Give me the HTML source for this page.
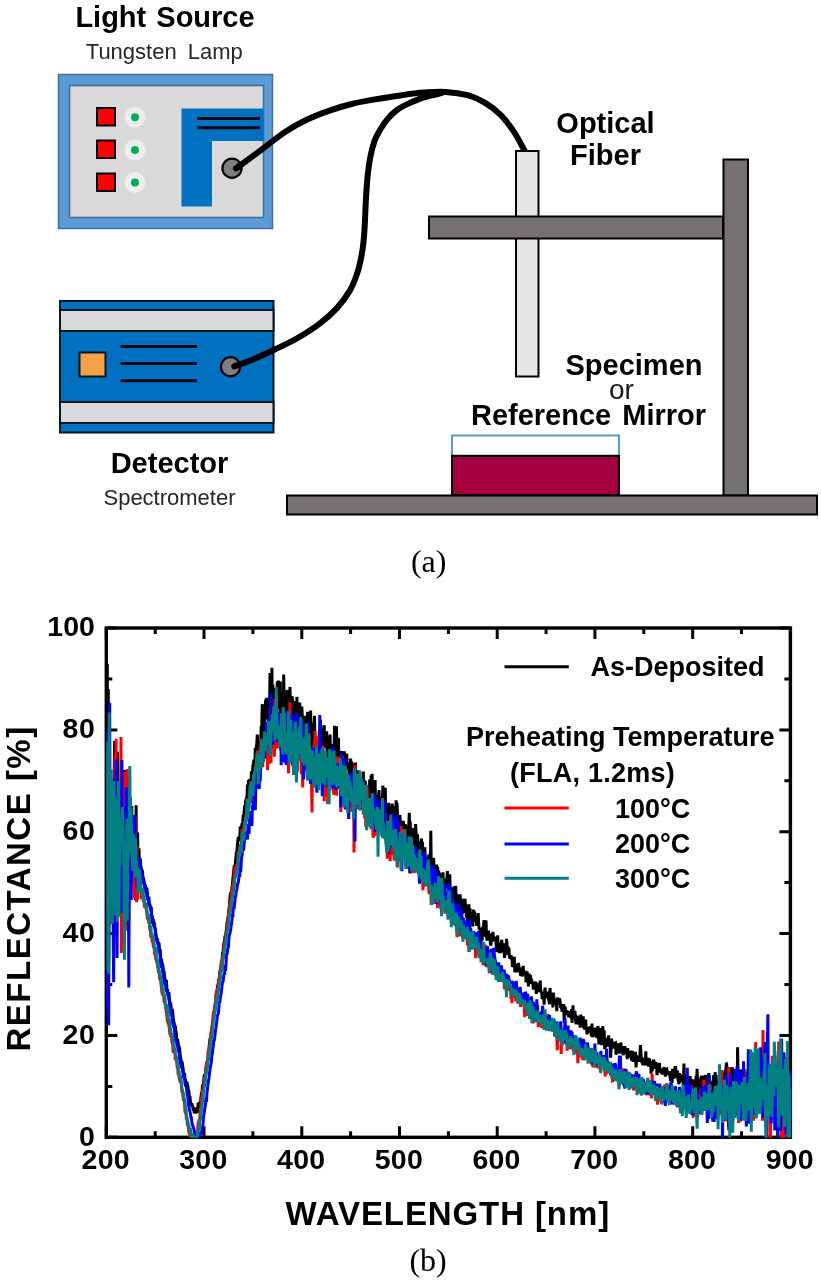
<!DOCTYPE html>
<html lang="en">
<head>
<meta charset="utf-8">
<title>Reflectance measurement setup and spectra</title>
<style>
html,body{margin:0;padding:0;background:#fff;}
body{width:821px;height:1280px;overflow:hidden;}
svg{display:block;}
text{font-family:"Liberation Sans",Arial,Helvetica,sans-serif;fill:#000;}
.b{font-weight:bold;}
.h{font-size:29px;font-weight:bold;}
.s{font-size:22px;fill:#262626;}
.tk{font-size:28.5px;font-weight:bold;letter-spacing:0.2px;}
.lg{font-size:27px;font-weight:bold;}
.axl{font-size:33px;font-weight:bold;}
.cap{font-family:"Liberation Serif","Times New Roman",serif;font-size:32px;}
</style>
</head>
<body>
<svg width="821" height="1280" viewBox="0 0 821 1280">
<defs>
<clipPath id="plotclip"><rect x="106.3" y="627" width="685" height="510.8"/></clipPath>
</defs>
<rect x="0" y="0" width="821" height="1280" fill="#ffffff"/>

<!-- ================= (a) schematic ================= -->
<!-- titles -->
<text x="165" y="26.8" text-anchor="middle" class="h" style="font-size:29px;word-spacing:2px">Light Source</text>
<text x="164.3" y="58.6" text-anchor="middle" class="s" style="word-spacing:5px">Tungsten Lamp</text>

<!-- light source box -->
<rect x="58.5" y="74.5" width="214" height="154" fill="#5b9bd5" stroke="#41719c" stroke-width="1.5"/>
<rect x="69.5" y="85.5" width="194" height="132" fill="#d9d9d9" stroke="#41719c" stroke-width="1.6"/>
<g fill="#ff0000" stroke="#000" stroke-width="2">
<rect x="97" y="108" width="18" height="17.5"/>
<rect x="97" y="140.5" width="18" height="17.5"/>
<rect x="97" y="173.5" width="18" height="17.5"/>
</g>
<g fill="#ededed">
<circle cx="135" cy="117.3" r="10.5"/><circle cx="135" cy="150" r="10.5"/><circle cx="135" cy="182.5" r="10.5"/>
</g>
<g fill="#00b050">
<circle cx="135" cy="117.3" r="4"/><circle cx="135" cy="150" r="4"/><circle cx="135" cy="182.5" r="4"/>
</g>
<path d="M181.5 108.5H263.5V141H212V206.5H181.5Z" fill="#0070c0"/>
<path d="M197.5 118.5H260M197.5 127.8H260" stroke="#0a0a14" stroke-width="3" fill="none"/>

<!-- detector box -->
<rect x="60" y="301" width="213.5" height="131.5" fill="#0070c0" stroke="#0b1522" stroke-width="2"/>
<rect x="60" y="310" width="213.5" height="21" fill="#d9d9d9" stroke="#0b1522" stroke-width="2"/>
<rect x="60" y="402" width="213.5" height="21" fill="#d9d9d9" stroke="#0b1522" stroke-width="2"/>
<rect x="79.5" y="352.5" width="26" height="24" fill="#f4a245" stroke="#0b1522" stroke-width="2"/>
<path d="M120.5 346.5H197M120.5 363.5H197M120.5 380.7H197" stroke="#0a0a14" stroke-width="3" fill="none"/>

<!-- cables -->
<g fill="none" stroke="#000" stroke-width="6" stroke-linecap="round" stroke-linejoin="round">
<path d="M236.0 168.5 C240.7 165.1 255.6 154.0 263.9 147.8 C272.2 141.6 278.5 136.2 285.8 131.4 C293.1 126.7 300.4 122.8 307.7 119.3 C315.0 115.8 322.3 113.1 329.6 110.6 C336.9 108.0 344.3 105.8 351.6 104.0 C358.9 102.2 365.1 101.1 373.5 99.6 C381.9 98.1 393.5 96.4 401.9 95.2 C410.3 94.0 416.5 93.1 423.8 92.6 C431.1 92.0 438.5 91.5 445.8 91.9 C453.1 92.3 461.1 93.4 467.7 95.2 C474.3 97.0 479.7 99.6 485.2 102.9 C490.7 106.2 495.9 110.2 500.6 114.9 C505.4 119.7 509.6 125.3 513.7 131.4 C517.8 137.5 523.1 148.2 525.0 151.5"/>
<path d="M234.3 366.4 C237.4 365.2 246.2 362.2 252.9 359.4 C259.6 356.6 267.5 353.0 274.8 349.5 C282.1 346.0 289.4 342.7 296.7 338.5 C304.0 334.3 312.1 329.2 318.7 324.3 C325.3 319.4 331.1 314.4 336.2 308.9 C341.3 303.4 345.9 297.2 349.4 291.4 C352.9 285.6 355.0 279.8 357.0 273.9 C359.0 268.0 360.3 261.8 361.4 256.3 C362.5 250.8 363.1 246.1 363.6 241.0 C364.2 235.9 364.3 232.6 364.7 226.0 C365.1 219.4 365.4 209.3 365.8 201.6 C366.2 193.9 366.6 186.9 367.3 179.6 C368.0 172.3 369.0 164.1 370.2 157.7 C371.4 151.3 372.9 145.6 374.5 141.0 C376.1 136.4 377.8 133.8 380.0 130.0 C382.2 126.2 385.2 121.8 388.0 118.5 C390.8 115.2 393.9 112.3 397.0 110.0 C400.1 107.7 401.8 106.7 406.3 104.6 C410.8 102.5 418.0 99.3 423.8 97.4 C429.6 95.5 438.5 93.9 441.4 93.2"/>
</g>
<!-- connectors -->
<circle cx="232" cy="168.2" r="9.6" fill="#7f7f7f" stroke="#000" stroke-width="2.2"/>
<circle cx="230.5" cy="366.8" r="9.6" fill="#7f7f7f" stroke="#000" stroke-width="2.2"/>
<path d="M236 168.5L242 164" stroke="#000" stroke-width="6" stroke-linecap="round"/>
<path d="M234.3 366.4L241 363.8" stroke="#000" stroke-width="6" stroke-linecap="round"/>

<!-- fiber probe -->
<rect x="516" y="151" width="22.5" height="225.5" fill="#e7e6e6" stroke="#000" stroke-width="2"/>
<!-- stand -->
<rect x="429" y="216.5" width="294" height="22" fill="#767171" stroke="#000" stroke-width="2"/>
<rect x="723.5" y="159.5" width="24.5" height="336" fill="#767171" stroke="#000" stroke-width="2"/>
<rect x="287" y="495.5" width="530" height="19" fill="#767171" stroke="#000" stroke-width="2"/>
<!-- specimen -->
<rect x="452" y="435.5" width="167" height="20" fill="#ffffff" stroke="#5b9bd5" stroke-width="2"/>
<rect x="452" y="456" width="167" height="39" fill="#a5003e" stroke="#000" stroke-width="2"/>

<text x="605.5" y="132.5" text-anchor="middle" class="h">Optical</text>
<text x="605.5" y="165" text-anchor="middle" class="h">Fiber</text>
<text x="634" y="374.8" text-anchor="middle" class="h">Specimen</text>
<text x="621.5" y="399.3" text-anchor="middle" style="font-size:28px;fill:#1a1a1a">or</text>
<text x="588.5" y="425" text-anchor="middle" class="h" style="word-spacing:3px">Reference Mirror</text>

<text x="169.5" y="472.5" text-anchor="middle" class="h">Detector</text>
<text x="169.5" y="505" text-anchor="middle" class="s">Spectrometer</text>

<text x="428.7" y="572" text-anchor="middle" class="cap">(a)</text>

<!-- ================= (b) chart ================= -->
<rect x="106.3" y="628.0" width="684.1" height="509.3" fill="none" stroke="#000" stroke-width="3.4"/>
<path d="M106.3 1137.3v-11.0M106.3 628.0v11.0M155.2 1137.3v-6.0M155.2 628.0v6.0M204.0 1137.3v-11.0M204.0 628.0v11.0M252.9 1137.3v-6.0M252.9 628.0v6.0M301.8 1137.3v-11.0M301.8 628.0v11.0M350.6 1137.3v-6.0M350.6 628.0v6.0M399.5 1137.3v-11.0M399.5 628.0v11.0M448.4 1137.3v-6.0M448.4 628.0v6.0M497.2 1137.3v-11.0M497.2 628.0v11.0M546.1 1137.3v-6.0M546.1 628.0v6.0M594.9 1137.3v-11.0M594.9 628.0v11.0M643.8 1137.3v-6.0M643.8 628.0v6.0M692.7 1137.3v-11.0M692.7 628.0v11.0M741.5 1137.3v-6.0M741.5 628.0v6.0M790.4 1137.3v-11.0M790.4 628.0v11.0M106.3 1137.3h11.0M790.4 1137.3h-11.0M106.3 1086.4h6.0M790.4 1086.4h-6.0M106.3 1035.4h11.0M790.4 1035.4h-11.0M106.3 984.5h6.0M790.4 984.5h-6.0M106.3 933.6h11.0M790.4 933.6h-11.0M106.3 882.6h6.0M790.4 882.6h-6.0M106.3 831.7h11.0M790.4 831.7h-11.0M106.3 780.8h6.0M790.4 780.8h-6.0M106.3 729.9h11.0M790.4 729.9h-11.0M106.3 678.9h6.0M790.4 678.9h-6.0M106.3 628.0h11.0M790.4 628.0h-11.0" stroke="#000" stroke-width="3" fill="none"/>
<g fill="none" stroke-width="3" stroke-linejoin="miter" stroke-miterlimit="2" stroke-linecap="butt" clip-path="url(#plotclip)">
<polyline stroke="#000000" points="106.3,643.3 106.8,943.8 107.3,663.7 107.8,908.1 108.3,689.1 108.7,959.0 109.2,709.5 109.7,882.6 110.2,826.9 110.7,894.5 111.2,882.6 111.7,856.6 112.2,785.2 112.7,794.0 113.1,905.2 113.6,893.4 114.1,786.8 114.6,741.0 115.1,831.2 115.6,866.8 116.1,772.2 116.6,846.9 117.1,793.3 117.5,751.7 118.0,799.6 118.5,870.9 119.0,795.2 119.5,863.5 120.0,840.4 120.5,859.5 121.0,841.5 121.4,854.8 121.9,840.4 122.4,849.4 122.9,827.6 123.4,828.8 123.9,818.4 124.4,770.1 124.9,898.3 125.4,777.1 125.8,841.5 126.3,882.1 126.8,839.8 127.3,830.1 127.8,794.0 128.3,874.0 128.8,827.7 129.3,900.3 129.8,894.3 130.2,876.9 130.7,818.7 131.2,816.8 131.7,806.1 132.2,825.4 132.7,831.5 133.2,840.6 133.7,816.1 134.2,865.8 134.6,851.2 135.1,842.3 135.6,900.2 136.1,805.3 136.6,865.8 137.1,856.6 137.6,832.6 138.1,867.9 138.6,866.1 139.0,848.4 139.5,873.7 140.0,869.8 140.5,864.7 141.0,867.3 141.5,868.8 142.0,872.1 142.5,870.4 142.9,877.8 143.4,878.0 143.9,879.7 144.4,884.9 144.9,889.6 145.4,885.1 145.9,893.1 146.4,888.4 146.9,887.9 147.3,896.8 147.8,897.8 148.3,899.1 148.8,896.5 149.3,904.7 149.8,905.3 150.3,908.5 150.8,909.0 151.3,908.8 151.7,916.6 152.2,923.6 152.7,920.3 153.2,919.2 153.7,926.7 154.2,923.2 154.7,927.2 155.2,928.5 155.7,932.8 156.1,939.3 156.6,939.2 157.1,937.9 157.6,942.2 158.1,944.7 158.6,942.6 159.1,943.9 159.6,951.7 160.1,949.2 160.5,955.1 161.0,963.7 161.5,958.9 162.0,964.0 162.5,964.3 163.0,966.8 163.5,977.7 164.0,971.1 164.4,974.7 164.9,981.2 165.4,979.3 165.9,981.7 166.4,980.0 166.9,991.3 167.4,989.2 167.9,992.6 168.4,994.2 168.8,992.2 169.3,997.7 169.8,1002.1 170.3,1002.9 170.8,1003.8 171.3,1010.4 171.8,1011.0 172.3,1008.9 172.8,1013.0 173.2,1017.7 173.7,1021.3 174.2,1023.1 174.7,1029.0 175.2,1025.5 175.7,1029.5 176.2,1032.6 176.7,1038.6 177.2,1039.7 177.6,1039.3 178.1,1042.4 178.6,1046.8 179.1,1046.9 179.6,1048.4 180.1,1054.9 180.6,1057.1 181.1,1060.5 181.6,1063.7 182.0,1061.5 182.5,1064.8 183.0,1067.7 183.5,1074.0 184.0,1076.2 184.5,1072.8 185.0,1079.2 185.5,1079.9 185.9,1083.9 186.4,1082.6 186.9,1081.8 187.4,1084.4 187.9,1086.3 188.4,1092.0 188.9,1091.9 189.4,1097.1 189.9,1095.9 190.3,1101.1 190.8,1103.4 191.3,1105.8 191.8,1103.4 192.3,1105.4 192.8,1106.6 193.3,1110.8 193.8,1108.6 194.3,1113.4 194.7,1107.3 195.2,1112.2 195.7,1112.3 196.2,1110.2 196.7,1112.8 197.2,1111.4 197.7,1111.4 198.2,1102.5 198.7,1107.9 199.1,1105.9 199.6,1102.0 200.1,1103.7 200.6,1101.5 201.1,1096.0 201.6,1092.8 202.1,1091.4 202.6,1084.4 203.1,1086.3 203.5,1084.2 204.0,1077.4 204.5,1074.1 205.0,1079.1 205.5,1073.0 206.0,1066.4 206.5,1069.4 207.0,1065.2 207.4,1063.1 207.9,1060.2 208.4,1056.5 208.9,1050.3 209.4,1044.0 209.9,1039.7 210.4,1039.8 210.9,1041.0 211.4,1032.7 211.8,1029.7 212.3,1024.4 212.8,1021.9 213.3,1022.4 213.8,1013.3 214.3,1015.8 214.8,1008.8 215.3,1002.7 215.8,998.9 216.2,992.8 216.7,998.8 217.2,989.4 217.7,985.4 218.2,984.7 218.7,979.1 219.2,980.2 219.7,972.7 220.2,969.8 220.6,970.4 221.1,966.4 221.6,962.1 222.1,960.0 222.6,952.7 223.1,951.6 223.6,945.6 224.1,942.3 224.6,941.4 225.0,935.6 225.5,936.6 226.0,932.6 226.5,929.0 227.0,922.5 227.5,921.9 228.0,915.9 228.5,916.3 228.9,910.1 229.4,905.7 229.9,898.0 230.4,894.0 230.9,894.1 231.4,891.4 231.9,888.3 232.4,884.6 232.9,878.1 233.3,875.2 233.8,870.2 234.3,865.3 234.8,867.6 235.3,863.4 235.8,859.3 236.3,852.9 236.8,852.7 237.3,846.9 237.7,841.7 238.2,838.1 238.7,837.9 239.2,839.5 239.7,839.7 240.2,827.7 240.7,827.5 241.2,830.1 241.7,826.0 242.1,823.3 242.6,825.7 243.1,815.4 243.6,817.2 244.1,812.6 244.6,805.6 245.1,806.7 245.6,801.3 246.1,799.2 246.5,798.5 247.0,795.8 247.5,784.6 248.0,791.8 248.5,780.1 249.0,800.1 249.5,779.2 250.0,779.8 250.4,782.7 250.9,789.7 251.4,771.4 251.9,779.0 252.4,775.6 252.9,765.6 253.4,763.8 253.9,759.8 254.4,761.7 254.8,769.8 255.3,747.7 255.8,760.7 256.3,748.5 256.8,742.9 257.3,734.6 257.8,745.7 258.3,744.4 258.8,760.0 259.2,756.2 259.7,742.6 260.2,743.2 260.7,742.8 261.2,726.1 261.7,729.9 262.2,705.3 262.7,704.4 263.2,744.0 263.6,717.4 264.1,729.8 264.6,709.9 265.1,711.4 265.6,699.5 266.1,719.4 266.6,697.9 267.1,710.2 267.6,715.5 268.0,719.1 268.5,713.1 269.0,706.5 269.5,712.3 270.0,673.1 270.5,697.3 271.0,674.4 271.5,696.6 271.9,667.8 272.4,710.9 272.9,684.5 273.4,714.4 273.9,688.1 274.4,694.8 274.9,721.4 275.4,710.2 275.9,693.6 276.3,700.9 276.8,719.7 277.3,681.6 277.8,699.0 278.3,680.6 278.8,696.0 279.3,697.8 279.8,709.2 280.3,681.4 280.7,723.9 281.2,710.4 281.7,721.7 282.2,732.6 282.7,692.5 283.2,727.6 283.7,674.6 284.2,708.9 284.7,706.8 285.1,707.5 285.6,700.7 286.1,722.9 286.6,713.8 287.1,689.9 287.6,748.6 288.1,742.9 288.6,703.0 289.1,706.4 289.5,701.1 290.0,686.9 290.5,723.3 291.0,710.6 291.5,706.3 292.0,696.2 292.5,699.7 293.0,727.3 293.5,735.5 293.9,719.9 294.4,739.7 294.9,700.9 295.4,723.0 295.9,722.9 296.4,731.0 296.9,696.9 297.4,715.1 297.8,725.6 298.3,711.3 298.8,721.6 299.3,712.3 299.8,702.5 300.3,725.2 300.8,714.6 301.3,715.5 301.8,706.6 302.2,714.6 302.7,722.9 303.2,732.7 303.7,719.9 304.2,739.0 304.7,715.7 305.2,724.3 305.7,717.9 306.2,733.0 306.6,737.3 307.1,739.2 307.6,711.7 308.1,730.3 308.6,730.8 309.1,752.5 309.6,729.2 310.1,758.7 310.6,710.6 311.0,732.8 311.5,729.6 312.0,749.6 312.5,745.6 313.0,723.1 313.5,734.5 314.0,726.4 314.5,715.7 315.0,745.7 315.4,759.0 315.9,747.2 316.4,750.9 316.9,747.1 317.4,763.0 317.9,763.1 318.4,763.9 318.9,744.8 319.3,730.6 319.8,742.1 320.3,719.7 320.8,762.6 321.3,757.4 321.8,736.5 322.3,743.7 322.8,753.5 323.3,731.2 323.7,727.5 324.2,725.2 324.7,747.7 325.2,743.1 325.7,740.6 326.2,743.2 326.7,731.4 327.2,758.2 327.7,740.7 328.1,773.7 328.6,736.7 329.1,740.6 329.6,747.6 330.1,734.6 330.6,769.2 331.1,753.1 331.6,768.8 332.1,746.1 332.5,744.1 333.0,768.3 333.5,762.3 334.0,759.7 334.5,725.7 335.0,754.5 335.5,752.7 336.0,750.3 336.5,726.3 336.9,758.9 337.4,772.8 337.9,765.4 338.4,737.8 338.9,755.2 339.4,763.4 339.9,775.8 340.4,760.7 340.8,760.3 341.3,759.0 341.8,751.1 342.3,769.5 342.8,765.0 343.3,753.5 343.8,761.5 344.3,751.4 344.8,768.1 345.2,771.0 345.7,764.5 346.2,764.6 346.7,753.7 347.2,763.5 347.7,769.2 348.2,764.2 348.7,762.4 349.2,783.7 349.6,772.9 350.1,775.7 350.6,758.5 351.1,778.6 351.6,761.3 352.1,788.7 352.6,775.4 353.1,763.1 353.6,778.9 354.0,763.3 354.5,800.1 355.0,777.3 355.5,762.5 356.0,780.2 356.5,796.4 357.0,772.4 357.5,805.2 358.0,770.4 358.4,778.3 358.9,771.1 359.4,785.5 359.9,795.6 360.4,789.5 360.9,789.5 361.4,778.3 361.9,788.9 362.3,781.5 362.8,781.3 363.3,771.6 363.8,809.4 364.3,792.6 364.8,781.3 365.3,781.8 365.8,795.9 366.3,793.3 366.7,792.0 367.2,790.1 367.7,798.1 368.2,799.5 368.7,805.1 369.2,797.7 369.7,779.5 370.2,804.8 370.7,785.2 371.1,775.4 371.6,794.2 372.1,773.9 372.6,798.7 373.1,780.2 373.6,798.6 374.1,811.2 374.6,795.4 375.1,779.9 375.5,806.0 376.0,795.4 376.5,811.1 377.0,810.4 377.5,797.1 378.0,804.1 378.5,796.9 379.0,790.1 379.5,815.6 379.9,811.1 380.4,804.1 380.9,797.4 381.4,808.7 381.9,810.8 382.4,801.9 382.9,785.6 383.4,813.1 383.8,810.7 384.3,807.7 384.8,801.0 385.3,787.8 385.8,821.9 386.3,826.4 386.8,808.8 387.3,805.5 387.8,833.3 388.2,817.8 388.7,802.8 389.2,817.8 389.7,806.1 390.2,811.9 390.7,807.7 391.2,810.4 391.7,812.5 392.2,803.5 392.6,821.5 393.1,815.4 393.6,806.2 394.1,822.9 394.6,834.0 395.1,825.7 395.6,828.0 396.1,800.3 396.6,815.6 397.0,802.8 397.5,814.1 398.0,835.3 398.5,824.7 399.0,820.1 399.5,823.5 400.0,815.1 400.5,832.2 401.0,823.1 401.4,820.8 401.9,827.8 402.4,828.3 402.9,821.6 403.4,822.0 403.9,828.6 404.4,828.3 404.9,833.8 405.3,824.2 405.8,830.9 406.3,844.5 406.8,833.6 407.3,825.8 407.8,829.3 408.3,836.7 408.8,824.9 409.3,812.7 409.7,828.7 410.2,821.3 410.7,838.5 411.2,830.9 411.7,839.3 412.2,829.0 412.7,828.2 413.2,834.8 413.7,833.2 414.1,847.6 414.6,835.7 415.1,856.5 415.6,824.0 416.1,833.3 416.6,857.2 417.1,864.1 417.6,834.2 418.1,853.5 418.5,842.2 419.0,858.7 419.5,847.7 420.0,840.9 420.5,844.6 421.0,853.2 421.5,838.5 422.0,858.1 422.5,841.7 422.9,853.3 423.4,849.4 423.9,867.8 424.4,856.1 424.9,847.2 425.4,866.8 425.9,860.2 426.4,860.8 426.8,866.3 427.3,857.9 427.8,871.8 428.3,870.7 428.8,854.2 429.3,869.0 429.8,857.2 430.3,872.0 430.8,830.8 431.2,861.7 431.7,880.8 432.2,872.0 432.7,870.8 433.2,858.4 433.7,859.2 434.2,873.5 434.7,866.9 435.2,873.9 435.6,867.5 436.1,871.3 436.6,864.6 437.1,876.4 437.6,866.9 438.1,875.5 438.6,870.6 439.1,878.0 439.6,872.6 440.0,876.4 440.5,879.7 441.0,882.6 441.5,882.1 442.0,877.0 442.5,897.9 443.0,872.4 443.5,899.0 444.0,884.4 444.4,886.1 444.9,878.7 445.4,883.1 445.9,885.8 446.4,885.4 446.9,879.7 447.4,871.0 447.9,885.1 448.4,903.6 448.8,892.1 449.3,886.6 449.8,874.3 450.3,896.4 450.8,894.2 451.3,888.1 451.8,890.4 452.3,902.8 452.7,887.2 453.2,903.9 453.7,897.0 454.2,886.4 454.7,905.7 455.2,902.4 455.7,885.8 456.2,900.0 456.7,906.1 457.1,903.4 457.6,894.2 458.1,911.5 458.6,910.8 459.1,911.8 459.6,910.3 460.1,894.3 460.6,904.1 461.1,907.0 461.5,901.8 462.0,907.7 462.5,913.6 463.0,898.7 463.5,901.0 464.0,912.8 464.5,903.2 465.0,898.9 465.5,905.7 465.9,906.2 466.4,917.8 466.9,911.3 467.4,922.7 467.9,904.6 468.4,913.1 468.9,904.4 469.4,917.9 469.9,908.3 470.3,923.8 470.8,917.1 471.3,912.0 471.8,913.6 472.3,916.6 472.8,926.5 473.3,909.6 473.8,914.0 474.2,911.8 474.7,912.5 475.2,921.6 475.7,917.8 476.2,917.6 476.7,925.8 477.2,919.3 477.7,925.2 478.2,913.0 478.6,922.2 479.1,929.4 479.6,927.8 480.1,932.3 480.6,948.3 481.1,937.4 481.6,930.2 482.1,940.6 482.6,926.7 483.0,932.2 483.5,927.4 484.0,920.0 484.5,935.5 485.0,936.2 485.5,925.8 486.0,920.4 486.5,936.1 487.0,940.6 487.4,934.3 487.9,935.4 488.4,930.6 488.9,939.5 489.4,936.3 489.9,937.0 490.4,943.4 490.9,945.6 491.4,935.2 491.8,935.3 492.3,941.9 492.8,931.9 493.3,935.3 493.8,937.9 494.3,937.8 494.8,939.5 495.3,938.5 495.7,938.4 496.2,945.7 496.7,951.8 497.2,944.4 497.7,935.3 498.2,949.8 498.7,942.9 499.2,953.3 499.7,943.0 500.1,949.7 500.6,952.6 501.1,951.7 501.6,939.7 502.1,943.1 502.6,950.9 503.1,945.9 503.6,943.4 504.1,950.2 504.5,958.0 505.0,948.6 505.5,951.3 506.0,955.1 506.5,938.8 507.0,943.5 507.5,951.9 508.0,946.7 508.5,954.2 508.9,947.8 509.4,956.1 509.9,958.6 510.4,957.9 510.9,955.4 511.4,956.8 511.9,958.5 512.4,966.8 512.9,965.7 513.3,962.8 513.8,959.2 514.3,956.8 514.8,972.3 515.3,964.5 515.8,966.4 516.3,965.4 516.8,964.7 517.2,969.6 517.7,972.1 518.2,963.0 518.7,964.6 519.2,970.0 519.7,969.3 520.2,972.2 520.7,975.8 521.2,967.7 521.6,973.8 522.1,976.2 522.6,974.6 523.1,965.8 523.6,971.3 524.1,972.7 524.6,973.9 525.1,971.2 525.6,972.3 526.0,982.3 526.5,977.4 527.0,971.4 527.5,976.4 528.0,980.3 528.5,986.5 529.0,973.8 529.5,978.0 530.0,983.9 530.4,975.2 530.9,979.8 531.4,978.8 531.9,981.1 532.4,982.7 532.9,984.2 533.4,989.5 533.9,985.5 534.4,982.7 534.8,983.7 535.3,981.6 535.8,985.1 536.3,993.9 536.8,982.6 537.3,989.4 537.8,992.1 538.3,988.3 538.7,984.2 539.2,986.3 539.7,992.1 540.2,980.6 540.7,990.1 541.2,991.9 541.7,992.7 542.2,999.1 542.7,994.5 543.1,994.4 543.6,993.1 544.1,1004.8 544.6,992.4 545.1,987.7 545.6,995.2 546.1,994.1 546.6,992.5 547.1,998.0 547.5,996.9 548.0,991.6 548.5,998.7 549.0,1001.5 549.5,1004.2 550.0,988.0 550.5,995.8 551.0,999.0 551.5,997.8 551.9,996.1 552.4,998.8 552.9,1007.5 553.4,992.6 553.9,998.1 554.4,1001.8 554.9,998.6 555.4,1002.8 555.9,1004.5 556.3,999.0 556.8,1011.3 557.3,999.4 557.8,997.6 558.3,1001.2 558.8,1001.0 559.3,998.7 559.8,999.6 560.2,1002.4 560.7,1008.1 561.2,1004.0 561.7,1009.3 562.2,1011.7 562.7,1006.2 563.2,1007.1 563.7,1004.0 564.2,1022.9 564.6,1007.3 565.1,1007.5 565.6,1010.2 566.1,1012.0 566.6,1015.1 567.1,1010.5 567.6,1013.9 568.1,1012.8 568.6,1017.2 569.0,1014.2 569.5,1011.3 570.0,1014.0 570.5,1013.5 571.0,1018.4 571.5,1009.0 572.0,1022.8 572.5,1016.2 573.0,1005.4 573.4,1017.8 573.9,1014.2 574.4,1016.9 574.9,1011.0 575.4,1016.1 575.9,1024.2 576.4,1022.5 576.9,1017.5 577.4,1015.7 577.8,1018.4 578.3,1024.4 578.8,1023.1 579.3,1022.2 579.8,1021.5 580.3,1027.7 580.8,1014.6 581.3,1023.1 581.7,1022.5 582.2,1025.2 582.7,1023.9 583.2,1016.2 583.7,1028.3 584.2,1026.9 584.7,1029.4 585.2,1027.8 585.7,1019.5 586.1,1028.8 586.6,1028.4 587.1,1034.4 587.6,1028.8 588.1,1027.2 588.6,1032.4 589.1,1030.0 589.6,1027.6 590.1,1026.9 590.5,1029.8 591.0,1032.9 591.5,1036.3 592.0,1023.5 592.5,1037.1 593.0,1028.5 593.5,1032.3 594.0,1034.8 594.5,1028.5 594.9,1035.6 595.4,1027.7 595.9,1037.4 596.4,1031.5 596.9,1028.7 597.4,1038.2 597.9,1026.0 598.4,1031.5 598.9,1044.4 599.3,1030.0 599.8,1028.2 600.3,1037.4 600.8,1037.5 601.3,1035.6 601.8,1045.2 602.3,1037.1 602.8,1026.0 603.2,1040.7 603.7,1034.3 604.2,1030.3 604.7,1049.2 605.2,1047.3 605.7,1043.1 606.2,1038.0 606.7,1039.4 607.2,1045.1 607.6,1046.3 608.1,1045.0 608.6,1035.4 609.1,1046.6 609.6,1045.4 610.1,1039.5 610.6,1057.6 611.1,1048.2 611.6,1038.6 612.0,1043.4 612.5,1048.0 613.0,1047.1 613.5,1042.0 614.0,1047.7 614.5,1045.5 615.0,1043.1 615.5,1042.9 616.0,1054.8 616.4,1049.5 616.9,1049.1 617.4,1047.5 617.9,1045.0 618.4,1043.6 618.9,1050.5 619.4,1053.4 619.9,1050.7 620.4,1051.8 620.8,1042.5 621.3,1048.4 621.8,1049.9 622.3,1046.2 622.8,1053.3 623.3,1055.1 623.8,1051.8 624.3,1048.6 624.8,1046.2 625.2,1048.5 625.7,1048.9 626.2,1053.2 626.7,1051.0 627.2,1059.2 627.7,1048.2 628.2,1055.8 628.7,1053.8 629.1,1052.7 629.6,1050.7 630.1,1057.2 630.6,1055.4 631.1,1058.0 631.6,1060.4 632.1,1050.7 632.6,1053.5 633.1,1061.8 633.5,1059.9 634.0,1053.9 634.5,1058.9 635.0,1061.0 635.5,1051.8 636.0,1067.4 636.5,1060.4 637.0,1055.3 637.5,1060.8 637.9,1058.0 638.4,1057.7 638.9,1055.6 639.4,1061.9 639.9,1054.7 640.4,1045.2 640.9,1052.3 641.4,1059.0 641.9,1062.3 642.3,1062.5 642.8,1065.2 643.3,1060.9 643.8,1061.4 644.3,1057.7 644.8,1061.3 645.3,1065.3 645.8,1051.2 646.3,1064.1 646.7,1061.5 647.2,1060.2 647.7,1057.9 648.2,1066.3 648.7,1064.1 649.2,1058.4 649.7,1060.1 650.2,1062.1 650.6,1061.0 651.1,1073.7 651.6,1066.3 652.1,1071.2 652.6,1068.2 653.1,1067.4 653.6,1059.6 654.1,1061.6 654.6,1068.7 655.0,1065.8 655.5,1068.6 656.0,1062.2 656.5,1066.6 657.0,1075.2 657.5,1068.4 658.0,1066.4 658.5,1072.6 659.0,1068.0 659.4,1062.9 659.9,1070.3 660.4,1069.7 660.9,1068.7 661.4,1073.9 661.9,1072.1 662.4,1074.4 662.9,1071.7 663.4,1074.0 663.8,1067.0 664.3,1071.6 664.8,1067.8 665.3,1076.7 665.8,1071.8 666.3,1069.5 666.8,1069.2 667.3,1074.8 667.8,1072.9 668.2,1072.2 668.7,1074.3 669.2,1074.8 669.7,1071.1 670.2,1078.3 670.7,1081.1 671.2,1075.8 671.7,1077.7 672.1,1082.9 672.6,1068.8 673.1,1074.2 673.6,1072.3 674.1,1078.4 674.6,1075.3 675.1,1067.6 675.6,1067.6 676.1,1073.0 676.5,1077.1 677.0,1076.5 677.5,1070.5 678.0,1079.6 678.5,1080.8 679.0,1084.3 679.5,1073.1 680.0,1082.3 680.5,1076.1 680.9,1076.2 681.4,1077.6 681.9,1079.2 682.4,1074.3 682.9,1076.2 683.4,1086.1 683.9,1063.6 684.4,1077.5 684.9,1078.4 685.3,1082.0 685.8,1081.9 686.3,1091.0 686.8,1082.1 687.3,1078.3 687.8,1078.4 688.3,1085.2 688.8,1092.6 689.3,1088.1 689.7,1084.1 690.2,1076.1 690.7,1091.5 691.2,1083.1 691.7,1080.4 692.2,1080.4 692.7,1084.5 693.2,1095.3 693.6,1081.2 694.1,1083.7 694.6,1080.6 695.1,1089.6 695.6,1081.5 696.1,1076.0 696.6,1084.9 697.1,1068.9 697.6,1088.4 698.0,1077.2 698.5,1093.8 699.0,1087.4 699.5,1081.8 700.0,1084.5 700.5,1079.1 701.0,1081.8 701.5,1075.7 702.0,1093.0 702.4,1085.0 702.9,1082.5 703.4,1095.0 703.9,1075.6 704.4,1089.7 704.9,1077.2 705.4,1075.2 705.9,1077.8 706.4,1082.9 706.8,1080.6 707.3,1097.5 707.8,1080.5 708.3,1085.6 708.8,1073.1 709.3,1085.9 709.8,1080.0 710.3,1086.7 710.8,1081.2 711.2,1089.5 711.7,1085.1 712.2,1096.5 712.7,1088.6 713.2,1084.7 713.7,1075.0 714.2,1081.6 714.7,1091.6 715.1,1072.2 715.6,1080.5 716.1,1075.1 716.6,1110.5 717.1,1097.6 717.6,1087.8 718.1,1089.5 718.6,1080.2 719.1,1093.0 719.5,1088.2 720.0,1091.6 720.5,1080.5 721.0,1088.2 721.5,1071.0 722.0,1075.1 722.5,1074.5 723.0,1082.3 723.5,1078.7 723.9,1073.8 724.4,1086.7 724.9,1070.4 725.4,1080.5 725.9,1069.9 726.4,1062.5 726.9,1067.1 727.4,1087.8 727.9,1081.0 728.3,1088.3 728.8,1082.2 729.3,1080.7 729.8,1088.4 730.3,1077.0 730.8,1084.9 731.3,1069.9 731.8,1067.2 732.3,1097.1 732.7,1067.5 733.2,1087.8 733.7,1085.2 734.2,1085.1 734.7,1077.8 735.2,1080.9 735.7,1089.0 736.2,1075.9 736.6,1071.8 737.1,1092.5 737.6,1047.3 738.1,1076.1 738.6,1084.9 739.1,1083.5 739.6,1080.0 740.1,1075.3 740.6,1078.6 741.0,1071.4 741.5,1069.8 742.0,1089.5 742.5,1091.0 743.0,1081.4 743.5,1076.8 744.0,1072.2 744.5,1074.6 745.0,1074.9 745.4,1089.4 745.9,1080.5 746.4,1081.4 746.9,1077.0 747.4,1072.4 747.9,1087.3 748.4,1083.3 748.9,1060.2 749.4,1085.4 749.8,1086.1 750.3,1091.8 750.8,1095.2 751.3,1071.7 751.8,1088.2 752.3,1088.0 752.8,1090.0 753.3,1103.7 753.8,1105.8 754.2,1088.4 754.7,1083.7 755.2,1069.8 755.7,1085.1 756.2,1082.7 756.7,1082.4 757.2,1071.5 757.7,1098.4 758.1,1090.7 758.6,1107.3 759.1,1085.2 759.6,1079.1 760.1,1104.1 760.6,1073.2 761.1,1076.2 761.6,1073.0 762.1,1085.1 762.5,1068.1 763.0,1092.6 763.5,1083.1 764.0,1086.3 764.5,1092.4 765.0,1070.5 765.5,1042.1 766.0,1095.8 766.5,1081.3 766.9,1087.8 767.4,1087.4 767.9,1082.8 768.4,1095.0 768.9,1087.7 769.4,1086.7 769.9,1106.5 770.4,1096.0 770.9,1081.2 771.3,1090.5 771.8,1067.6 772.3,1067.6 772.8,1099.4 773.3,1088.0 773.8,1114.4 774.3,1099.3 774.8,1102.3 775.3,1101.1 775.7,1116.9 776.2,1089.7 776.7,1091.3 777.2,1114.8 777.7,1094.1 778.2,1082.7 778.7,1074.9 779.2,1086.8 779.6,1042.9 780.1,1113.9 780.6,1103.7 781.1,1098.8 781.6,1076.2 782.1,1087.3 782.6,1087.7 783.1,1076.2 783.6,1092.2 784.0,1100.3 784.5,1077.6 785.0,1097.8 785.5,1110.6 786.0,1116.3 786.5,1093.7 787.0,1073.1 787.5,1086.8 788.0,1101.7 788.4,1081.3 788.9,1114.5 789.4,1091.1 789.9,1103.1 790.4,1079.6"/>
<polyline stroke="#ff0000" points="106.3,854.5 106.8,999.7 107.3,762.2 107.8,865.4 108.3,884.0 108.7,921.0 109.2,780.5 109.7,925.1 110.2,803.6 110.7,885.1 111.2,797.3 111.7,861.7 112.2,808.0 112.7,797.8 113.1,912.8 113.6,780.1 114.1,801.5 114.6,781.4 115.1,755.4 115.6,931.4 116.1,738.7 116.6,934.6 117.1,880.3 117.5,826.1 118.0,788.3 118.5,811.4 119.0,826.0 119.5,816.5 120.0,900.8 120.5,844.4 121.0,737.0 121.4,952.9 121.9,857.3 122.4,850.8 122.9,887.4 123.4,852.8 123.9,842.1 124.4,772.3 124.9,789.8 125.4,893.4 125.8,823.7 126.3,930.7 126.8,893.3 127.3,768.9 127.8,872.2 128.3,869.1 128.8,921.1 129.3,838.7 129.8,889.1 130.2,877.1 130.7,830.5 131.2,839.2 131.7,880.0 132.2,843.0 132.7,825.1 133.2,865.6 133.7,886.3 134.2,854.1 134.6,898.7 135.1,816.4 135.6,869.3 136.1,890.9 136.6,902.3 137.1,845.8 137.6,899.7 138.1,877.4 138.6,883.4 139.0,877.9 139.5,881.3 140.0,879.1 140.5,883.1 141.0,890.1 141.5,899.2 142.0,895.3 142.5,894.1 142.9,894.0 143.4,897.6 143.9,899.9 144.4,906.4 144.9,907.0 145.4,907.3 145.9,902.5 146.4,909.8 146.9,912.2 147.3,918.3 147.8,919.1 148.3,919.5 148.8,922.4 149.3,923.8 149.8,930.5 150.3,929.1 150.8,937.3 151.3,936.3 151.7,937.6 152.2,940.9 152.7,940.8 153.2,945.5 153.7,947.4 154.2,948.5 154.7,954.2 155.2,954.9 155.7,958.6 156.1,958.5 156.6,961.7 157.1,962.1 157.6,966.8 158.1,968.8 158.6,972.8 159.1,969.8 159.6,978.9 160.1,979.4 160.5,979.7 161.0,983.5 161.5,988.6 162.0,992.7 162.5,992.6 163.0,996.1 163.5,994.7 164.0,1001.5 164.4,1002.4 164.9,1001.1 165.4,1006.6 165.9,1009.1 166.4,1012.7 166.9,1016.1 167.4,1021.4 167.9,1021.8 168.4,1023.9 168.8,1025.0 169.3,1027.8 169.8,1034.7 170.3,1032.7 170.8,1037.2 171.3,1033.4 171.8,1040.9 172.3,1040.6 172.8,1046.3 173.2,1052.6 173.7,1051.8 174.2,1050.8 174.7,1049.0 175.2,1060.0 175.7,1058.8 176.2,1060.7 176.7,1061.9 177.2,1068.1 177.6,1066.4 178.1,1074.3 178.6,1073.8 179.1,1077.6 179.6,1079.6 180.1,1079.2 180.6,1082.8 181.1,1082.2 181.6,1088.9 182.0,1092.8 182.5,1091.3 183.0,1096.2 183.5,1100.7 184.0,1100.1 184.5,1102.9 185.0,1112.0 185.5,1112.8 185.9,1112.6 186.4,1119.7 186.9,1117.7 187.4,1124.5 187.9,1125.3 188.4,1127.8 188.9,1132.3 189.4,1132.4 189.9,1135.6 190.3,1136.8 190.8,1134.2 191.3,1135.6 191.8,1139.3 192.3,1137.4 192.8,1135.4 193.3,1139.1 193.8,1139.3 194.3,1136.5 194.7,1138.6 195.2,1139.3 195.7,1132.6 196.2,1138.2 196.7,1133.3 197.2,1130.4 197.7,1129.6 198.2,1122.7 198.7,1121.7 199.1,1119.2 199.6,1122.0 200.1,1110.9 200.6,1111.1 201.1,1102.2 201.6,1098.2 202.1,1095.9 202.6,1090.5 203.1,1089.3 203.5,1088.2 204.0,1085.1 204.5,1077.2 205.0,1080.6 205.5,1072.2 206.0,1072.0 206.5,1061.6 207.0,1065.8 207.4,1063.7 207.9,1053.9 208.4,1050.6 208.9,1050.4 209.4,1045.8 209.9,1044.8 210.4,1038.9 210.9,1033.2 211.4,1030.8 211.8,1028.0 212.3,1025.6 212.8,1018.4 213.3,1013.4 213.8,1010.5 214.3,1012.7 214.8,1006.0 215.3,1005.1 215.8,1001.0 216.2,996.4 216.7,989.8 217.2,990.5 217.7,988.1 218.2,986.1 218.7,978.4 219.2,982.5 219.7,974.5 220.2,971.1 220.6,971.9 221.1,963.5 221.6,959.6 222.1,968.8 222.6,956.1 223.1,955.3 223.6,952.3 224.1,945.6 224.6,943.1 225.0,943.1 225.5,943.2 226.0,932.9 226.5,932.9 227.0,929.1 227.5,923.5 228.0,920.4 228.5,917.2 228.9,909.1 229.4,911.6 229.9,902.7 230.4,905.7 230.9,899.6 231.4,894.3 231.9,889.2 232.4,894.0 232.9,883.7 233.3,884.4 233.8,880.8 234.3,876.7 234.8,870.2 235.3,866.6 235.8,867.6 236.3,867.3 236.8,864.8 237.3,866.1 237.7,861.9 238.2,851.1 238.7,856.6 239.2,854.0 239.7,849.4 240.2,847.5 240.7,845.8 241.2,843.2 241.7,839.9 242.1,829.0 242.6,829.5 243.1,835.2 243.6,830.8 244.1,824.6 244.6,821.4 245.1,824.4 245.6,823.5 246.1,814.1 246.5,816.7 247.0,814.6 247.5,808.3 248.0,806.1 248.5,808.9 249.0,806.1 249.5,796.5 250.0,797.0 250.4,789.1 250.9,782.4 251.4,781.8 251.9,803.2 252.4,794.8 252.9,784.2 253.4,780.6 253.9,775.1 254.4,773.3 254.8,777.8 255.3,766.2 255.8,776.9 256.3,760.4 256.8,781.8 257.3,750.4 257.8,757.9 258.3,752.6 258.8,761.4 259.2,771.4 259.7,757.3 260.2,753.3 260.7,749.8 261.2,738.6 261.7,745.2 262.2,755.1 262.7,767.3 263.2,751.4 263.6,761.6 264.1,745.9 264.6,745.9 265.1,740.2 265.6,748.9 266.1,730.3 266.6,729.4 267.1,726.6 267.6,770.3 268.0,723.7 268.5,720.6 269.0,731.7 269.5,763.6 270.0,741.2 270.5,708.4 271.0,763.1 271.5,729.1 271.9,739.2 272.4,707.3 272.9,723.2 273.4,733.1 273.9,729.2 274.4,756.7 274.9,699.0 275.4,719.8 275.9,748.8 276.3,741.6 276.8,724.2 277.3,744.5 277.8,747.7 278.3,721.4 278.8,737.5 279.3,729.7 279.8,721.9 280.3,750.2 280.7,713.2 281.2,723.6 281.7,755.1 282.2,759.3 282.7,737.4 283.2,734.6 283.7,751.3 284.2,744.3 284.7,744.1 285.1,746.4 285.6,735.3 286.1,717.4 286.6,712.3 287.1,754.4 287.6,743.0 288.1,757.3 288.6,773.4 289.1,749.4 289.5,722.4 290.0,702.4 290.5,739.6 291.0,723.5 291.5,755.3 292.0,742.9 292.5,736.4 293.0,765.1 293.5,757.5 293.9,741.2 294.4,734.2 294.9,749.1 295.4,719.8 295.9,736.6 296.4,756.0 296.9,736.9 297.4,753.2 297.8,741.8 298.3,738.9 298.8,760.9 299.3,725.8 299.8,747.1 300.3,742.9 300.8,755.4 301.3,774.2 301.8,758.0 302.2,750.4 302.7,787.6 303.2,748.4 303.7,747.6 304.2,737.1 304.7,748.6 305.2,738.1 305.7,755.3 306.2,762.3 306.6,748.0 307.1,772.2 307.6,736.8 308.1,775.0 308.6,735.9 309.1,766.8 309.6,766.0 310.1,775.2 310.6,762.8 311.0,758.3 311.5,783.8 312.0,812.4 312.5,761.7 313.0,784.0 313.5,752.7 314.0,744.9 314.5,770.9 315.0,731.0 315.4,764.0 315.9,780.1 316.4,736.5 316.9,757.8 317.4,772.9 317.9,766.2 318.4,744.9 318.9,742.0 319.3,751.7 319.8,782.7 320.3,775.3 320.8,757.2 321.3,767.2 321.8,763.1 322.3,763.3 322.8,745.6 323.3,774.2 323.7,771.5 324.2,801.1 324.7,772.6 325.2,796.5 325.7,782.4 326.2,773.1 326.7,780.8 327.2,774.0 327.7,804.1 328.1,779.0 328.6,770.8 329.1,773.5 329.6,768.1 330.1,784.5 330.6,765.0 331.1,783.1 331.6,779.3 332.1,761.6 332.5,755.7 333.0,764.4 333.5,792.5 334.0,794.8 334.5,784.3 335.0,776.5 335.5,755.6 336.0,762.3 336.5,795.6 336.9,774.4 337.4,775.9 337.9,789.1 338.4,785.5 338.9,756.6 339.4,783.0 339.9,783.4 340.4,775.5 340.8,812.1 341.3,780.7 341.8,770.1 342.3,755.1 342.8,765.3 343.3,796.9 343.8,784.0 344.3,791.4 344.8,780.6 345.2,778.2 345.7,781.5 346.2,776.8 346.7,777.6 347.2,781.1 347.7,773.2 348.2,798.9 348.7,793.1 349.2,788.7 349.6,792.1 350.1,783.6 350.6,775.2 351.1,790.8 351.6,804.3 352.1,811.8 352.6,785.0 353.1,783.1 353.6,784.4 354.0,852.5 354.5,781.9 355.0,765.2 355.5,793.4 356.0,796.6 356.5,780.0 357.0,804.1 357.5,808.9 358.0,780.9 358.4,808.6 358.9,788.7 359.4,804.6 359.9,802.3 360.4,810.4 360.9,793.4 361.4,801.0 361.9,801.9 362.3,806.9 362.8,809.2 363.3,789.0 363.8,793.1 364.3,791.8 364.8,818.6 365.3,799.8 365.8,826.9 366.3,787.2 366.7,785.0 367.2,790.4 367.7,802.1 368.2,801.7 368.7,811.1 369.2,810.4 369.7,799.8 370.2,798.6 370.7,816.9 371.1,829.2 371.6,819.9 372.1,819.2 372.6,823.3 373.1,837.8 373.6,834.3 374.1,817.3 374.6,796.4 375.1,836.2 375.5,818.0 376.0,824.5 376.5,817.6 377.0,821.3 377.5,809.8 378.0,822.9 378.5,832.1 379.0,827.6 379.5,824.4 379.9,816.7 380.4,820.5 380.9,821.0 381.4,828.2 381.9,831.3 382.4,833.0 382.9,828.4 383.4,817.5 383.8,814.7 384.3,838.8 384.8,834.7 385.3,833.2 385.8,812.9 386.3,843.4 386.8,833.3 387.3,858.7 387.8,831.3 388.2,846.0 388.7,826.3 389.2,826.6 389.7,836.7 390.2,861.3 390.7,833.8 391.2,845.6 391.7,833.5 392.2,823.5 392.6,850.9 393.1,854.9 393.6,850.6 394.1,860.4 394.6,851.0 395.1,831.1 395.6,852.0 396.1,859.8 396.6,839.9 397.0,839.0 397.5,867.5 398.0,844.7 398.5,851.5 399.0,842.4 399.5,861.6 400.0,852.3 400.5,859.8 401.0,825.8 401.4,843.0 401.9,841.4 402.4,842.0 402.9,848.7 403.4,836.8 403.9,845.1 404.4,829.6 404.9,842.5 405.3,838.8 405.8,866.1 406.3,858.6 406.8,858.1 407.3,869.0 407.8,859.9 408.3,860.0 408.8,867.1 409.3,848.4 409.7,862.9 410.2,856.6 410.7,873.5 411.2,861.3 411.7,867.3 412.2,867.8 412.7,862.3 413.2,857.7 413.7,872.4 414.1,872.0 414.6,856.0 415.1,871.7 415.6,866.8 416.1,852.1 416.6,854.0 417.1,866.4 417.6,867.7 418.1,865.7 418.5,870.4 419.0,868.9 419.5,858.2 420.0,866.7 420.5,868.7 421.0,873.3 421.5,863.6 422.0,877.3 422.5,873.7 422.9,890.1 423.4,878.0 423.9,872.8 424.4,881.9 424.9,874.7 425.4,876.8 425.9,882.6 426.4,873.1 426.8,877.3 427.3,884.1 427.8,879.5 428.3,873.9 428.8,891.2 429.3,893.9 429.8,875.9 430.3,893.1 430.8,890.3 431.2,904.9 431.7,889.3 432.2,885.6 432.7,900.8 433.2,885.9 433.7,903.8 434.2,894.0 434.7,881.1 435.2,878.1 435.6,893.5 436.1,882.0 436.6,899.0 437.1,886.3 437.6,908.2 438.1,891.6 438.6,898.3 439.1,905.4 439.6,900.6 440.0,901.1 440.5,900.2 441.0,900.6 441.5,906.9 442.0,907.4 442.5,902.3 443.0,907.2 443.5,904.0 444.0,905.8 444.4,898.6 444.9,913.6 445.4,899.2 445.9,900.4 446.4,913.5 446.9,903.2 447.4,898.4 447.9,911.8 448.4,907.2 448.8,918.4 449.3,903.6 449.8,911.0 450.3,901.2 450.8,906.7 451.3,914.8 451.8,922.2 452.3,899.1 452.7,908.2 453.2,919.9 453.7,911.0 454.2,915.7 454.7,921.7 455.2,926.0 455.7,921.7 456.2,924.8 456.7,929.6 457.1,937.1 457.6,924.9 458.1,930.1 458.6,932.6 459.1,923.3 459.6,919.3 460.1,929.3 460.6,936.3 461.1,928.6 461.5,931.8 462.0,920.2 462.5,938.4 463.0,929.2 463.5,935.6 464.0,925.3 464.5,933.9 465.0,937.4 465.5,936.2 465.9,931.6 466.4,932.4 466.9,929.8 467.4,945.4 467.9,941.8 468.4,939.3 468.9,952.0 469.4,941.6 469.9,936.5 470.3,944.3 470.8,940.8 471.3,944.9 471.8,942.0 472.3,948.8 472.8,936.5 473.3,938.1 473.8,942.3 474.2,933.3 474.7,942.0 475.2,946.2 475.7,958.1 476.2,952.7 476.7,943.2 477.2,938.5 477.7,951.3 478.2,943.9 478.6,953.5 479.1,946.8 479.6,954.2 480.1,953.3 480.6,954.5 481.1,950.7 481.6,959.6 482.1,944.5 482.6,950.3 483.0,965.0 483.5,963.4 484.0,943.8 484.5,962.1 485.0,954.0 485.5,946.3 486.0,946.5 486.5,967.1 487.0,950.5 487.4,957.6 487.9,962.5 488.4,962.9 488.9,966.6 489.4,973.1 489.9,960.2 490.4,961.9 490.9,965.6 491.4,962.4 491.8,960.9 492.3,972.9 492.8,968.8 493.3,974.6 493.8,964.7 494.3,973.2 494.8,961.4 495.3,965.1 495.7,974.3 496.2,964.7 496.7,970.3 497.2,974.5 497.7,973.2 498.2,972.6 498.7,981.9 499.2,968.9 499.7,977.8 500.1,979.1 500.6,973.2 501.1,981.1 501.6,969.9 502.1,972.6 502.6,978.2 503.1,972.5 503.6,972.3 504.1,981.8 504.5,989.1 505.0,988.3 505.5,984.9 506.0,978.6 506.5,978.9 507.0,983.7 507.5,974.8 508.0,985.5 508.5,981.9 508.9,990.9 509.4,989.3 509.9,986.7 510.4,982.9 510.9,998.8 511.4,982.8 511.9,1003.1 512.4,985.3 512.9,991.6 513.3,997.7 513.8,995.9 514.3,983.1 514.8,993.9 515.3,993.9 515.8,1001.3 516.3,1000.1 516.8,989.8 517.2,989.2 517.7,987.6 518.2,995.1 518.7,1000.1 519.2,1003.9 519.7,992.7 520.2,1002.2 520.7,1006.9 521.2,1002.8 521.6,1002.4 522.1,997.3 522.6,1003.9 523.1,997.4 523.6,1000.4 524.1,1004.0 524.6,1015.9 525.1,1016.4 525.6,1006.5 526.0,1003.9 526.5,999.5 527.0,1016.0 527.5,1005.1 528.0,1005.9 528.5,1004.4 529.0,1008.6 529.5,1010.7 530.0,1010.4 530.4,1008.9 530.9,1005.7 531.4,1015.5 531.9,1014.3 532.4,1021.1 532.9,1012.5 533.4,1023.4 533.9,1006.9 534.4,1013.4 534.8,1019.3 535.3,1016.0 535.8,1017.0 536.3,1018.7 536.8,1016.8 537.3,1006.0 537.8,1006.4 538.3,1027.1 538.7,1017.0 539.2,1016.7 539.7,1024.3 540.2,1020.6 540.7,1021.0 541.2,1020.2 541.7,1028.0 542.2,1026.5 542.7,1016.9 543.1,1018.2 543.6,1018.2 544.1,1018.8 544.6,1027.5 545.1,1019.9 545.6,1025.1 546.1,1015.2 546.6,1025.4 547.1,1021.7 547.5,1028.8 548.0,1014.1 548.5,1026.1 549.0,1024.6 549.5,1030.7 550.0,1026.8 550.5,1022.8 551.0,1020.1 551.5,1030.1 551.9,1025.6 552.4,1031.6 552.9,1030.7 553.4,1027.7 553.9,1032.1 554.4,1024.5 554.9,1036.7 555.4,1035.6 555.9,1035.7 556.3,1028.8 556.8,1037.4 557.3,1050.1 557.8,1032.2 558.3,1028.3 558.8,1037.8 559.3,1030.4 559.8,1037.6 560.2,1034.5 560.7,1025.1 561.2,1054.0 561.7,1028.5 562.2,1038.0 562.7,1032.9 563.2,1033.8 563.7,1043.6 564.2,1031.0 564.6,1041.2 565.1,1044.1 565.6,1037.4 566.1,1029.3 566.6,1033.0 567.1,1050.7 567.6,1043.3 568.1,1041.2 568.6,1044.7 569.0,1047.2 569.5,1045.9 570.0,1048.7 570.5,1036.0 571.0,1043.0 571.5,1049.5 572.0,1043.7 572.5,1037.5 573.0,1047.7 573.4,1039.9 573.9,1052.1 574.4,1048.1 574.9,1035.1 575.4,1046.4 575.9,1053.6 576.4,1039.9 576.9,1048.9 577.4,1042.6 577.8,1063.1 578.3,1056.4 578.8,1040.1 579.3,1049.4 579.8,1057.3 580.3,1043.5 580.8,1049.4 581.3,1039.4 581.7,1044.7 582.2,1049.5 582.7,1059.9 583.2,1058.9 583.7,1053.1 584.2,1060.5 584.7,1052.3 585.2,1047.9 585.7,1051.1 586.1,1046.4 586.6,1049.3 587.1,1052.3 587.6,1049.8 588.1,1059.3 588.6,1057.2 589.1,1055.9 589.6,1049.8 590.1,1061.5 590.5,1050.0 591.0,1062.5 591.5,1063.3 592.0,1062.7 592.5,1048.5 593.0,1067.5 593.5,1057.9 594.0,1056.6 594.5,1061.1 594.9,1065.2 595.4,1067.4 595.9,1059.9 596.4,1057.2 596.9,1055.4 597.4,1064.7 597.9,1059.2 598.4,1068.4 598.9,1061.4 599.3,1064.8 599.8,1061.3 600.3,1072.1 600.8,1063.8 601.3,1065.1 601.8,1067.3 602.3,1059.9 602.8,1062.6 603.2,1062.0 603.7,1058.1 604.2,1071.3 604.7,1062.5 605.2,1076.4 605.7,1068.3 606.2,1074.1 606.7,1072.5 607.2,1066.4 607.6,1063.8 608.1,1066.1 608.6,1064.4 609.1,1065.3 609.6,1070.8 610.1,1067.5 610.6,1072.0 611.1,1075.7 611.6,1066.3 612.0,1073.6 612.5,1081.0 613.0,1080.9 613.5,1071.2 614.0,1073.6 614.5,1064.8 615.0,1072.2 615.5,1076.0 616.0,1076.6 616.4,1080.5 616.9,1072.7 617.4,1068.1 617.9,1079.9 618.4,1079.6 618.9,1072.9 619.4,1072.9 619.9,1072.5 620.4,1079.6 620.8,1076.1 621.3,1080.1 621.8,1075.8 622.3,1083.8 622.8,1076.4 623.3,1085.4 623.8,1068.2 624.3,1086.3 624.8,1078.3 625.2,1076.1 625.7,1080.1 626.2,1076.4 626.7,1085.2 627.2,1075.2 627.7,1073.6 628.2,1074.2 628.7,1082.4 629.1,1073.4 629.6,1079.0 630.1,1080.8 630.6,1084.8 631.1,1077.7 631.6,1079.3 632.1,1084.9 632.6,1086.5 633.1,1082.5 633.5,1090.4 634.0,1078.2 634.5,1078.9 635.0,1077.9 635.5,1085.8 636.0,1072.5 636.5,1081.9 637.0,1076.6 637.5,1080.7 637.9,1079.2 638.4,1089.0 638.9,1078.1 639.4,1087.9 639.9,1093.7 640.4,1086.8 640.9,1078.5 641.4,1082.3 641.9,1083.4 642.3,1092.6 642.8,1081.3 643.3,1085.7 643.8,1091.9 644.3,1084.6 644.8,1091.2 645.3,1093.7 645.8,1088.0 646.3,1087.5 646.7,1095.3 647.2,1080.3 647.7,1084.9 648.2,1087.8 648.7,1093.3 649.2,1094.1 649.7,1092.8 650.2,1095.6 650.6,1092.5 651.1,1090.1 651.6,1098.5 652.1,1073.5 652.6,1088.7 653.1,1094.0 653.6,1089.6 654.1,1090.5 654.6,1088.4 655.0,1092.5 655.5,1091.0 656.0,1097.4 656.5,1095.5 657.0,1095.2 657.5,1104.6 658.0,1098.6 658.5,1097.9 659.0,1097.2 659.4,1087.5 659.9,1083.5 660.4,1099.2 660.9,1099.8 661.4,1103.5 661.9,1095.6 662.4,1094.7 662.9,1094.7 663.4,1097.6 663.8,1092.9 664.3,1094.0 664.8,1084.4 665.3,1096.4 665.8,1093.0 666.3,1099.2 666.8,1095.9 667.3,1095.6 667.8,1084.5 668.2,1102.2 668.7,1099.0 669.2,1102.4 669.7,1091.2 670.2,1097.3 670.7,1104.5 671.2,1096.9 671.7,1097.0 672.1,1098.2 672.6,1100.7 673.1,1094.0 673.6,1097.9 674.1,1098.0 674.6,1098.2 675.1,1102.6 675.6,1100.2 676.1,1099.2 676.5,1103.7 677.0,1095.0 677.5,1107.5 678.0,1095.5 678.5,1103.8 679.0,1105.4 679.5,1100.6 680.0,1102.1 680.5,1095.2 680.9,1107.0 681.4,1104.7 681.9,1099.9 682.4,1088.9 682.9,1109.1 683.4,1092.9 683.9,1085.6 684.4,1104.9 684.9,1092.3 685.3,1102.0 685.8,1105.1 686.3,1104.3 686.8,1104.4 687.3,1109.3 687.8,1102.6 688.3,1106.9 688.8,1087.7 689.3,1091.9 689.7,1103.1 690.2,1103.3 690.7,1095.3 691.2,1085.2 691.7,1089.8 692.2,1097.1 692.7,1089.0 693.2,1116.2 693.6,1116.0 694.1,1099.6 694.6,1109.6 695.1,1102.4 695.6,1104.5 696.1,1102.9 696.6,1104.5 697.1,1105.5 697.6,1106.1 698.0,1094.4 698.5,1103.1 699.0,1105.1 699.5,1105.4 700.0,1109.7 700.5,1112.4 701.0,1088.5 701.5,1114.5 702.0,1100.6 702.4,1102.6 702.9,1103.9 703.4,1097.9 703.9,1079.8 704.4,1084.0 704.9,1104.5 705.4,1087.2 705.9,1099.1 706.4,1103.3 706.8,1110.7 707.3,1093.5 707.8,1104.9 708.3,1106.4 708.8,1082.3 709.3,1090.4 709.8,1103.8 710.3,1084.4 710.8,1098.2 711.2,1106.3 711.7,1107.1 712.2,1105.2 712.7,1104.4 713.2,1111.4 713.7,1113.6 714.2,1117.1 714.7,1117.8 715.1,1097.0 715.6,1093.6 716.1,1102.6 716.6,1115.0 717.1,1108.1 717.6,1118.3 718.1,1117.1 718.6,1109.8 719.1,1096.2 719.5,1071.8 720.0,1093.4 720.5,1107.4 721.0,1114.3 721.5,1070.0 722.0,1089.8 722.5,1106.4 723.0,1089.0 723.5,1086.8 723.9,1102.5 724.4,1101.9 724.9,1112.8 725.4,1121.3 725.9,1104.1 726.4,1100.9 726.9,1102.3 727.4,1109.7 727.9,1090.1 728.3,1104.9 728.8,1067.0 729.3,1094.8 729.8,1086.6 730.3,1106.4 730.8,1106.8 731.3,1110.3 731.8,1116.1 732.3,1081.2 732.7,1087.4 733.2,1109.1 733.7,1096.7 734.2,1096.6 734.7,1089.9 735.2,1098.0 735.7,1113.8 736.2,1098.6 736.6,1088.3 737.1,1102.8 737.6,1079.4 738.1,1087.9 738.6,1123.1 739.1,1077.7 739.6,1101.7 740.1,1104.5 740.6,1121.6 741.0,1084.7 741.5,1115.1 742.0,1085.0 742.5,1087.8 743.0,1077.2 743.5,1106.3 744.0,1078.2 744.5,1113.3 745.0,1069.0 745.4,1090.6 745.9,1097.9 746.4,1094.4 746.9,1091.5 747.4,1112.6 747.9,1095.1 748.4,1107.7 748.9,1096.0 749.4,1110.8 749.8,1094.8 750.3,1078.7 750.8,1112.6 751.3,1096.4 751.8,1074.6 752.3,1088.0 752.8,1072.8 753.3,1120.8 753.8,1112.0 754.2,1093.4 754.7,1072.5 755.2,1105.2 755.7,1041.9 756.2,1112.4 756.7,1063.6 757.2,1114.3 757.7,1062.3 758.1,1104.9 758.6,1101.5 759.1,1111.7 759.6,1097.6 760.1,1048.0 760.6,1082.6 761.1,1098.6 761.6,1102.9 762.1,1076.6 762.5,1120.7 763.0,1030.0 763.5,1081.9 764.0,1098.6 764.5,1087.7 765.0,1095.0 765.5,1081.2 766.0,1091.9 766.5,1074.9 766.9,1101.8 767.4,1084.8 767.9,1091.1 768.4,1108.5 768.9,1113.3 769.4,1068.0 769.9,1138.5 770.4,1138.5 770.9,1075.5 771.3,1070.2 771.8,1071.2 772.3,1055.7 772.8,1077.8 773.3,1071.4 773.8,1088.9 774.3,1057.0 774.8,1050.7 775.3,1080.8 775.7,1112.1 776.2,1120.0 776.7,1072.5 777.2,1120.8 777.7,1106.6 778.2,1109.1 778.7,1041.5 779.2,1098.0 779.6,1101.3 780.1,1074.2 780.6,1087.5 781.1,1138.1 781.6,1104.5 782.1,1139.3 782.6,1105.1 783.1,1117.9 783.6,1099.0 784.0,1053.3 784.5,1139.3 785.0,1061.3 785.5,1103.4 786.0,1092.5 786.5,1110.5 787.0,1096.8 787.5,1087.2 788.0,1127.5 788.4,1111.1 788.9,1119.9 789.4,1122.2 789.9,1087.4 790.4,1101.2"/>
<polyline stroke="#0000ff" points="106.3,729.9 106.8,1015.1 107.3,740.0 107.8,984.5 108.3,770.6 108.7,1025.3 109.2,807.6 109.7,703.1 110.2,852.2 110.7,816.7 111.2,860.6 111.7,887.7 112.2,846.5 112.7,778.5 113.1,914.0 113.6,982.2 114.1,903.6 114.6,795.4 115.1,904.4 115.6,825.2 116.1,759.6 116.6,805.9 117.1,958.1 117.5,826.1 118.0,878.8 118.5,855.9 119.0,908.4 119.5,833.0 120.0,801.6 120.5,868.1 121.0,912.7 121.4,902.1 121.9,760.1 122.4,853.0 122.9,877.4 123.4,808.3 123.9,878.6 124.4,862.1 124.9,893.3 125.4,830.5 125.8,844.3 126.3,787.3 126.8,850.5 127.3,868.2 127.8,889.7 128.3,828.4 128.8,987.6 129.3,850.6 129.8,869.4 130.2,797.3 130.7,882.8 131.2,900.1 131.7,849.4 132.2,859.8 132.7,863.1 133.2,831.5 133.7,836.4 134.2,840.7 134.6,814.9 135.1,866.4 135.6,835.8 136.1,866.1 136.6,851.2 137.1,887.7 137.6,868.0 138.1,868.1 138.6,867.2 139.0,866.0 139.5,875.8 140.0,860.5 140.5,858.5 141.0,882.2 141.5,872.6 142.0,872.8 142.5,875.5 142.9,883.1 143.4,880.2 143.9,883.8 144.4,885.3 144.9,884.9 145.4,886.7 145.9,891.5 146.4,889.3 146.9,896.7 147.3,892.2 147.8,900.7 148.3,897.4 148.8,904.6 149.3,903.2 149.8,904.4 150.3,906.0 150.8,908.6 151.3,914.1 151.7,915.2 152.2,916.2 152.7,919.3 153.2,920.5 153.7,922.6 154.2,921.9 154.7,927.0 155.2,931.0 155.7,933.7 156.1,936.2 156.6,938.0 157.1,942.3 157.6,939.9 158.1,945.3 158.6,950.2 159.1,952.4 159.6,951.5 160.1,955.0 160.5,959.4 161.0,968.0 161.5,964.9 162.0,964.6 162.5,968.6 163.0,973.7 163.5,968.9 164.0,985.0 164.4,979.4 164.9,983.7 165.4,981.5 165.9,990.0 166.4,989.6 166.9,992.6 167.4,991.3 167.9,995.1 168.4,995.5 168.8,999.4 169.3,1001.0 169.8,1008.2 170.3,1009.6 170.8,1012.1 171.3,1016.5 171.8,1013.4 172.3,1017.9 172.8,1025.1 173.2,1021.9 173.7,1028.2 174.2,1024.5 174.7,1032.7 175.2,1041.3 175.7,1038.9 176.2,1042.3 176.7,1042.9 177.2,1047.4 177.6,1045.3 178.1,1050.5 178.6,1051.7 179.1,1052.9 179.6,1058.7 180.1,1061.9 180.6,1063.7 181.1,1067.1 181.6,1067.6 182.0,1067.3 182.5,1069.8 183.0,1073.9 183.5,1078.2 184.0,1075.4 184.5,1079.1 185.0,1082.9 185.5,1085.5 185.9,1085.8 186.4,1087.4 186.9,1092.3 187.4,1095.4 187.9,1097.1 188.4,1106.1 188.9,1101.3 189.4,1110.3 189.9,1111.2 190.3,1112.7 190.8,1117.3 191.3,1117.4 191.8,1121.2 192.3,1124.9 192.8,1125.4 193.3,1127.7 193.8,1128.4 194.3,1132.8 194.7,1135.5 195.2,1135.8 195.7,1135.6 196.2,1134.2 196.7,1139.1 197.2,1139.3 197.7,1138.2 198.2,1138.0 198.7,1139.3 199.1,1138.3 199.6,1133.7 200.1,1136.6 200.6,1131.7 201.1,1134.5 201.6,1133.0 202.1,1127.3 202.6,1127.7 203.1,1122.1 203.5,1116.8 204.0,1113.8 204.5,1110.6 205.0,1107.1 205.5,1105.1 206.0,1097.8 206.5,1102.0 207.0,1092.3 207.4,1089.8 207.9,1084.7 208.4,1081.6 208.9,1078.7 209.4,1073.9 209.9,1070.1 210.4,1067.2 210.9,1064.4 211.4,1061.6 211.8,1055.9 212.3,1054.2 212.8,1048.5 213.3,1046.0 213.8,1040.1 214.3,1040.1 214.8,1036.7 215.3,1032.1 215.8,1028.7 216.2,1026.0 216.7,1022.2 217.2,1017.5 217.7,1014.2 218.2,1014.6 218.7,1010.1 219.2,1001.6 219.7,1003.1 220.2,999.0 220.6,996.3 221.1,993.3 221.6,989.7 222.1,984.5 222.6,981.9 223.1,981.5 223.6,977.4 224.1,973.4 224.6,974.9 225.0,965.1 225.5,970.8 226.0,964.0 226.5,953.6 227.0,954.6 227.5,950.5 228.0,948.0 228.5,946.6 228.9,938.0 229.4,934.6 229.9,933.8 230.4,931.0 230.9,927.8 231.4,924.3 231.9,921.1 232.4,915.4 232.9,915.4 233.3,902.0 233.8,909.5 234.3,907.3 234.8,902.1 235.3,896.4 235.8,895.8 236.3,891.3 236.8,890.0 237.3,886.3 237.7,883.7 238.2,883.0 238.7,878.9 239.2,874.8 239.7,876.9 240.2,861.6 240.7,871.9 241.2,862.2 241.7,856.5 242.1,855.4 242.6,848.6 243.1,849.5 243.6,850.4 244.1,844.3 244.6,839.1 245.1,833.8 245.6,838.9 246.1,831.8 246.5,832.9 247.0,837.2 247.5,839.4 248.0,824.1 248.5,829.9 249.0,834.0 249.5,818.3 250.0,819.8 250.4,811.1 250.9,820.9 251.4,815.2 251.9,825.9 252.4,806.7 252.9,804.8 253.4,801.1 253.9,800.8 254.4,785.1 254.8,791.6 255.3,810.2 255.8,787.6 256.3,768.4 256.8,784.9 257.3,787.8 257.8,786.6 258.3,786.6 258.8,772.9 259.2,789.1 259.7,758.4 260.2,781.5 260.7,763.8 261.2,757.2 261.7,753.1 262.2,758.3 262.7,757.4 263.2,757.9 263.6,753.2 264.1,756.0 264.6,758.8 265.1,732.6 265.6,748.8 266.1,727.8 266.6,722.7 267.1,731.3 267.6,734.0 268.0,718.7 268.5,749.3 269.0,748.8 269.5,745.3 270.0,725.7 270.5,752.1 271.0,693.6 271.5,714.9 271.9,722.1 272.4,714.9 272.9,744.7 273.4,728.3 273.9,721.8 274.4,724.6 274.9,724.0 275.4,728.4 275.9,730.6 276.3,724.4 276.8,709.9 277.3,741.9 277.8,730.3 278.3,712.5 278.8,729.7 279.3,728.1 279.8,745.3 280.3,741.9 280.7,725.6 281.2,765.3 281.7,746.2 282.2,727.6 282.7,729.4 283.2,729.5 283.7,724.7 284.2,761.1 284.7,761.8 285.1,741.4 285.6,711.5 286.1,765.1 286.6,740.8 287.1,732.1 287.6,729.7 288.1,710.5 288.6,745.9 289.1,714.2 289.5,745.6 290.0,747.3 290.5,747.4 291.0,742.4 291.5,743.6 292.0,736.7 292.5,765.7 293.0,714.7 293.5,728.7 293.9,731.6 294.4,738.9 294.9,746.6 295.4,715.6 295.9,740.1 296.4,717.2 296.9,712.6 297.4,769.9 297.8,726.7 298.3,739.3 298.8,756.3 299.3,732.5 299.8,732.4 300.3,738.1 300.8,731.1 301.3,744.8 301.8,744.4 302.2,719.3 302.7,738.6 303.2,759.4 303.7,779.4 304.2,756.7 304.7,769.2 305.2,761.7 305.7,741.4 306.2,755.9 306.6,757.9 307.1,769.9 307.6,722.8 308.1,726.9 308.6,747.8 309.1,778.6 309.6,745.9 310.1,770.8 310.6,783.9 311.0,755.7 311.5,764.6 312.0,761.8 312.5,755.7 313.0,756.7 313.5,748.3 314.0,770.4 314.5,757.5 315.0,754.7 315.4,746.7 315.9,758.5 316.4,775.5 316.9,792.7 317.4,766.7 317.9,785.0 318.4,766.4 318.9,763.4 319.3,778.9 319.8,715.0 320.3,757.6 320.8,781.3 321.3,769.9 321.8,772.4 322.3,796.3 322.8,779.7 323.3,763.5 323.7,768.4 324.2,757.8 324.7,785.4 325.2,775.1 325.7,781.8 326.2,776.7 326.7,778.0 327.2,767.5 327.7,764.3 328.1,787.7 328.6,777.8 329.1,765.9 329.6,781.0 330.1,770.0 330.6,752.5 331.1,750.8 331.6,766.2 332.1,788.4 332.5,766.6 333.0,747.1 333.5,760.7 334.0,765.6 334.5,770.6 335.0,776.2 335.5,790.4 336.0,778.5 336.5,787.5 336.9,767.6 337.4,763.3 337.9,779.0 338.4,786.6 338.9,787.5 339.4,779.1 339.9,767.6 340.4,775.0 340.8,807.3 341.3,785.6 341.8,753.5 342.3,777.6 342.8,776.9 343.3,776.2 343.8,791.2 344.3,807.0 344.8,759.2 345.2,809.4 345.7,775.9 346.2,784.6 346.7,785.2 347.2,803.7 347.7,781.4 348.2,798.5 348.7,819.0 349.2,797.1 349.6,789.6 350.1,795.4 350.6,786.7 351.1,772.7 351.6,780.2 352.1,796.1 352.6,775.2 353.1,794.6 353.6,797.5 354.0,768.5 354.5,786.5 355.0,841.6 355.5,777.7 356.0,784.1 356.5,779.1 357.0,783.0 357.5,805.9 358.0,796.4 358.4,774.8 358.9,799.9 359.4,798.0 359.9,800.6 360.4,802.9 360.9,788.6 361.4,802.7 361.9,794.3 362.3,795.6 362.8,803.8 363.3,788.7 363.8,782.2 364.3,788.6 364.8,807.8 365.3,793.9 365.8,797.8 366.3,803.7 366.7,815.2 367.2,807.5 367.7,800.8 368.2,807.8 368.7,813.5 369.2,805.3 369.7,807.7 370.2,815.5 370.7,798.8 371.1,798.4 371.6,801.8 372.1,822.0 372.6,793.0 373.1,796.7 373.6,825.3 374.1,811.8 374.6,796.1 375.1,797.8 375.5,832.0 376.0,818.7 376.5,822.0 377.0,818.0 377.5,813.6 378.0,800.1 378.5,812.5 379.0,812.9 379.5,827.0 379.9,809.3 380.4,815.5 380.9,821.4 381.4,814.1 381.9,824.7 382.4,837.2 382.9,834.5 383.4,807.4 383.8,824.1 384.3,821.5 384.8,800.7 385.3,834.5 385.8,829.0 386.3,832.0 386.8,838.0 387.3,825.8 387.8,833.3 388.2,825.4 388.7,854.0 389.2,824.1 389.7,822.8 390.2,820.5 390.7,827.7 391.2,829.4 391.7,842.3 392.2,847.2 392.6,813.3 393.1,831.5 393.6,833.8 394.1,825.8 394.6,849.0 395.1,844.7 395.6,819.7 396.1,831.7 396.6,815.4 397.0,834.7 397.5,819.9 398.0,838.8 398.5,836.9 399.0,843.2 399.5,834.6 400.0,841.7 400.5,852.2 401.0,850.7 401.4,835.2 401.9,871.3 402.4,846.6 402.9,854.8 403.4,840.8 403.9,848.0 404.4,832.3 404.9,843.9 405.3,838.5 405.8,857.0 406.3,840.9 406.8,854.8 407.3,839.3 407.8,848.5 408.3,839.7 408.8,867.2 409.3,851.9 409.7,873.2 410.2,855.0 410.7,857.9 411.2,862.6 411.7,869.1 412.2,847.8 412.7,847.0 413.2,856.1 413.7,846.6 414.1,854.8 414.6,858.4 415.1,861.4 415.6,846.5 416.1,861.6 416.6,856.8 417.1,860.4 417.6,867.4 418.1,856.3 418.5,873.8 419.0,859.5 419.5,883.6 420.0,874.9 420.5,871.0 421.0,863.6 421.5,857.2 422.0,873.6 422.5,866.6 422.9,873.1 423.4,866.1 423.9,858.9 424.4,851.9 424.9,862.4 425.4,856.3 425.9,881.8 426.4,869.1 426.8,878.5 427.3,875.3 427.8,863.7 428.3,875.4 428.8,879.3 429.3,885.1 429.8,877.5 430.3,878.2 430.8,865.1 431.2,884.2 431.7,871.7 432.2,865.6 432.7,883.5 433.2,897.7 433.7,884.8 434.2,868.4 434.7,886.6 435.2,881.1 435.6,872.8 436.1,871.8 436.6,904.1 437.1,872.9 437.6,895.8 438.1,881.5 438.6,882.6 439.1,885.1 439.6,901.5 440.0,881.6 440.5,892.7 441.0,909.3 441.5,897.8 442.0,899.2 442.5,889.6 443.0,906.2 443.5,908.8 444.0,892.4 444.4,884.1 444.9,893.1 445.4,902.3 445.9,900.7 446.4,899.8 446.9,898.8 447.4,892.4 447.9,907.2 448.4,883.5 448.8,888.2 449.3,901.1 449.8,887.0 450.3,901.2 450.8,902.4 451.3,889.6 451.8,911.6 452.3,898.4 452.7,913.9 453.2,906.1 453.7,901.6 454.2,915.4 454.7,910.5 455.2,919.2 455.7,910.3 456.2,904.7 456.7,911.6 457.1,904.5 457.6,914.7 458.1,909.7 458.6,916.3 459.1,903.7 459.6,920.7 460.1,916.2 460.6,912.1 461.1,930.2 461.5,910.1 462.0,916.6 462.5,919.4 463.0,919.1 463.5,918.0 464.0,925.8 464.5,921.8 465.0,932.4 465.5,927.9 465.9,922.7 466.4,929.3 466.9,920.3 467.4,933.7 467.9,933.6 468.4,930.0 468.9,934.9 469.4,920.5 469.9,922.7 470.3,945.7 470.8,928.5 471.3,934.2 471.8,933.7 472.3,938.8 472.8,931.6 473.3,934.7 473.8,931.0 474.2,941.9 474.7,945.4 475.2,940.7 475.7,947.3 476.2,943.4 476.7,932.2 477.2,941.3 477.7,940.0 478.2,932.4 478.6,931.8 479.1,944.2 479.6,945.3 480.1,944.4 480.6,949.4 481.1,941.2 481.6,946.0 482.1,947.2 482.6,947.5 483.0,951.3 483.5,942.3 484.0,957.6 484.5,953.6 485.0,961.3 485.5,965.4 486.0,954.1 486.5,953.8 487.0,955.5 487.4,946.2 487.9,954.1 488.4,956.1 488.9,957.2 489.4,961.1 489.9,955.6 490.4,952.2 490.9,950.2 491.4,949.1 491.8,960.5 492.3,974.0 492.8,956.9 493.3,959.5 493.8,947.7 494.3,954.5 494.8,958.1 495.3,960.3 495.7,962.9 496.2,969.6 496.7,962.9 497.2,967.1 497.7,965.2 498.2,968.3 498.7,962.4 499.2,972.8 499.7,968.0 500.1,968.6 500.6,970.8 501.1,965.4 501.6,967.1 502.1,975.4 502.6,978.2 503.1,974.7 503.6,973.8 504.1,969.7 504.5,972.6 505.0,976.0 505.5,976.3 506.0,974.2 506.5,975.1 507.0,975.4 507.5,983.3 508.0,981.6 508.5,975.5 508.9,980.7 509.4,979.5 509.9,984.6 510.4,986.3 510.9,982.4 511.4,985.3 511.9,981.0 512.4,982.5 512.9,985.0 513.3,981.6 513.8,990.1 514.3,983.3 514.8,986.5 515.3,989.3 515.8,986.2 516.3,981.0 516.8,989.9 517.2,990.5 517.7,990.2 518.2,995.8 518.7,996.4 519.2,994.4 519.7,991.3 520.2,986.8 520.7,996.2 521.2,997.8 521.6,993.9 522.1,997.8 522.6,992.6 523.1,995.0 523.6,998.0 524.1,997.1 524.6,999.5 525.1,1005.1 525.6,991.6 526.0,1001.3 526.5,1000.2 527.0,1007.3 527.5,993.8 528.0,997.0 528.5,999.5 529.0,1002.4 529.5,1013.2 530.0,1009.9 530.4,1015.8 530.9,1013.9 531.4,996.3 531.9,1002.1 532.4,1011.8 532.9,1011.5 533.4,1001.9 533.9,1011.1 534.4,1004.2 534.8,1012.1 535.3,1020.0 535.8,1008.6 536.3,1018.4 536.8,999.2 537.3,1013.4 537.8,1011.2 538.3,1016.5 538.7,1013.9 539.2,1012.9 539.7,1021.2 540.2,1016.7 540.7,1015.7 541.2,1014.2 541.7,1011.6 542.2,1013.5 542.7,1005.7 543.1,1015.9 543.6,1011.4 544.1,1020.4 544.6,1016.9 545.1,1018.0 545.6,1025.5 546.1,1016.5 546.6,1017.8 547.1,1024.8 547.5,1018.3 548.0,1025.3 548.5,1020.8 549.0,1023.6 549.5,1015.0 550.0,1023.0 550.5,1025.3 551.0,1021.0 551.5,1022.8 551.9,1022.5 552.4,1019.4 552.9,1022.3 553.4,1022.8 553.9,1025.8 554.4,1020.3 554.9,1035.8 555.4,1027.7 555.9,1027.5 556.3,1031.7 556.8,1021.9 557.3,1022.9 557.8,1026.5 558.3,1030.8 558.8,1027.2 559.3,1034.5 559.8,1027.8 560.2,1037.7 560.7,1021.2 561.2,1036.2 561.7,1029.5 562.2,1035.7 562.7,1029.4 563.2,1038.5 563.7,1030.3 564.2,1031.4 564.6,1028.2 565.1,1017.9 565.6,1042.9 566.1,1029.8 566.6,1029.5 567.1,1039.6 567.6,1041.2 568.1,1025.5 568.6,1040.0 569.0,1043.3 569.5,1045.7 570.0,1040.3 570.5,1039.4 571.0,1030.4 571.5,1036.6 572.0,1031.9 572.5,1039.9 573.0,1042.3 573.4,1038.1 573.9,1038.4 574.4,1043.4 574.9,1041.3 575.4,1040.8 575.9,1037.7 576.4,1041.4 576.9,1040.6 577.4,1043.8 577.8,1047.4 578.3,1040.0 578.8,1045.3 579.3,1041.2 579.8,1051.7 580.3,1037.7 580.8,1047.0 581.3,1039.7 581.7,1041.1 582.2,1050.3 582.7,1038.9 583.2,1046.7 583.7,1039.3 584.2,1050.9 584.7,1042.5 585.2,1057.4 585.7,1043.3 586.1,1046.2 586.6,1054.8 587.1,1045.9 587.6,1042.5 588.1,1049.2 588.6,1048.2 589.1,1051.9 589.6,1048.3 590.1,1053.5 590.5,1057.0 591.0,1049.9 591.5,1055.5 592.0,1053.8 592.5,1048.0 593.0,1064.6 593.5,1055.7 594.0,1061.6 594.5,1059.0 594.9,1043.5 595.4,1064.5 595.9,1055.2 596.4,1065.3 596.9,1052.1 597.4,1058.9 597.9,1056.3 598.4,1058.2 598.9,1054.2 599.3,1061.8 599.8,1055.5 600.3,1064.6 600.8,1050.8 601.3,1059.7 601.8,1055.5 602.3,1057.2 602.8,1066.4 603.2,1055.2 603.7,1063.3 604.2,1065.4 604.7,1063.3 605.2,1057.2 605.7,1069.9 606.2,1056.5 606.7,1048.5 607.2,1062.3 607.6,1061.6 608.1,1062.6 608.6,1071.9 609.1,1065.2 609.6,1069.9 610.1,1068.6 610.6,1074.9 611.1,1069.9 611.6,1066.6 612.0,1063.5 612.5,1069.6 613.0,1074.6 613.5,1069.2 614.0,1072.6 614.5,1071.1 615.0,1063.1 615.5,1065.1 616.0,1068.9 616.4,1072.8 616.9,1072.0 617.4,1068.6 617.9,1075.8 618.4,1068.6 618.9,1070.2 619.4,1055.5 619.9,1073.6 620.4,1055.9 620.8,1072.0 621.3,1077.8 621.8,1077.0 622.3,1072.2 622.8,1070.8 623.3,1077.1 623.8,1072.7 624.3,1077.6 624.8,1088.6 625.2,1076.2 625.7,1069.1 626.2,1070.7 626.7,1080.7 627.2,1085.2 627.7,1071.7 628.2,1082.4 628.7,1077.2 629.1,1073.4 629.6,1077.6 630.1,1073.4 630.6,1082.6 631.1,1078.7 631.6,1074.8 632.1,1076.2 632.6,1085.1 633.1,1074.7 633.5,1081.1 634.0,1076.2 634.5,1076.7 635.0,1082.2 635.5,1075.5 636.0,1078.3 636.5,1071.2 637.0,1091.1 637.5,1073.9 637.9,1075.8 638.4,1084.6 638.9,1073.7 639.4,1088.2 639.9,1083.9 640.4,1082.8 640.9,1083.1 641.4,1083.3 641.9,1089.3 642.3,1091.8 642.8,1083.3 643.3,1079.1 643.8,1081.9 644.3,1085.1 644.8,1084.9 645.3,1085.2 645.8,1094.4 646.3,1085.4 646.7,1091.6 647.2,1084.8 647.7,1093.9 648.2,1085.5 648.7,1093.6 649.2,1089.5 649.7,1089.6 650.2,1092.1 650.6,1084.4 651.1,1087.6 651.6,1080.9 652.1,1083.2 652.6,1082.9 653.1,1084.9 653.6,1087.9 654.1,1089.3 654.6,1080.8 655.0,1094.6 655.5,1085.7 656.0,1087.1 656.5,1083.5 657.0,1093.3 657.5,1086.7 658.0,1092.7 658.5,1088.1 659.0,1084.4 659.4,1086.1 659.9,1090.7 660.4,1089.9 660.9,1086.7 661.4,1092.8 661.9,1096.2 662.4,1094.0 662.9,1103.0 663.4,1087.6 663.8,1100.6 664.3,1087.6 664.8,1098.8 665.3,1105.9 665.8,1097.9 666.3,1094.4 666.8,1091.5 667.3,1092.6 667.8,1096.5 668.2,1101.3 668.7,1094.8 669.2,1099.8 669.7,1100.5 670.2,1088.9 670.7,1084.0 671.2,1081.9 671.7,1099.3 672.1,1101.0 672.6,1103.0 673.1,1103.1 673.6,1097.6 674.1,1092.5 674.6,1096.9 675.1,1086.6 675.6,1087.2 676.1,1101.9 676.5,1102.1 677.0,1099.6 677.5,1094.6 678.0,1100.5 678.5,1103.0 679.0,1095.9 679.5,1086.9 680.0,1091.6 680.5,1100.9 680.9,1098.0 681.4,1094.9 681.9,1108.0 682.4,1100.9 682.9,1091.4 683.4,1090.3 683.9,1100.7 684.4,1099.7 684.9,1104.2 685.3,1107.5 685.8,1082.4 686.3,1096.6 686.8,1096.0 687.3,1067.9 687.8,1096.1 688.3,1087.8 688.8,1096.1 689.3,1110.5 689.7,1103.2 690.2,1084.6 690.7,1099.0 691.2,1095.1 691.7,1109.6 692.2,1115.1 692.7,1101.2 693.2,1090.5 693.6,1095.1 694.1,1109.2 694.6,1088.9 695.1,1106.3 695.6,1095.3 696.1,1100.0 696.6,1093.3 697.1,1090.3 697.6,1116.0 698.0,1111.5 698.5,1114.3 699.0,1101.5 699.5,1107.9 700.0,1100.8 700.5,1098.9 701.0,1099.0 701.5,1098.6 702.0,1086.5 702.4,1093.4 702.9,1103.1 703.4,1110.9 703.9,1090.7 704.4,1092.1 704.9,1088.6 705.4,1084.3 705.9,1091.8 706.4,1101.9 706.8,1102.1 707.3,1123.0 707.8,1110.9 708.3,1109.7 708.8,1118.9 709.3,1075.3 709.8,1108.1 710.3,1098.8 710.8,1100.4 711.2,1100.3 711.7,1090.0 712.2,1105.2 712.7,1121.5 713.2,1093.6 713.7,1104.6 714.2,1121.9 714.7,1104.1 715.1,1099.0 715.6,1109.5 716.1,1103.7 716.6,1097.3 717.1,1097.7 717.6,1119.4 718.1,1096.3 718.6,1099.4 719.1,1078.0 719.5,1103.5 720.0,1090.8 720.5,1094.3 721.0,1095.4 721.5,1090.3 722.0,1095.6 722.5,1139.3 723.0,1092.9 723.5,1088.7 723.9,1085.6 724.4,1115.0 724.9,1102.7 725.4,1076.9 725.9,1075.0 726.4,1082.2 726.9,1089.9 727.4,1118.8 727.9,1094.4 728.3,1119.8 728.8,1130.3 729.3,1087.2 729.8,1103.6 730.3,1072.9 730.8,1090.5 731.3,1112.4 731.8,1100.2 732.3,1111.6 732.7,1122.1 733.2,1093.9 733.7,1106.0 734.2,1084.1 734.7,1096.7 735.2,1069.1 735.7,1110.0 736.2,1115.6 736.6,1101.9 737.1,1066.5 737.6,1097.7 738.1,1119.3 738.6,1069.6 739.1,1082.0 739.6,1082.9 740.1,1109.2 740.6,1103.5 741.0,1097.0 741.5,1120.1 742.0,1097.7 742.5,1072.6 743.0,1120.2 743.5,1061.2 744.0,1089.4 744.5,1084.1 745.0,1080.8 745.4,1112.9 745.9,1111.8 746.4,1126.5 746.9,1087.6 747.4,1109.8 747.9,1091.8 748.4,1049.3 748.9,1123.8 749.4,1072.6 749.8,1056.2 750.3,1083.5 750.8,1099.5 751.3,1061.4 751.8,1074.9 752.3,1085.0 752.8,1063.0 753.3,1063.2 753.8,1114.4 754.2,1074.0 754.7,1107.7 755.2,1084.8 755.7,1106.2 756.2,1105.1 756.7,1100.7 757.2,1085.3 757.7,1076.2 758.1,1082.4 758.6,1093.7 759.1,1066.3 759.6,1073.7 760.1,1085.0 760.6,1047.2 761.1,1080.1 761.6,1096.5 762.1,1058.3 762.5,1088.3 763.0,1117.9 763.5,1097.5 764.0,1069.3 764.5,1075.4 765.0,1042.1 765.5,1114.0 766.0,1056.8 766.5,1139.3 766.9,1108.4 767.4,1041.0 767.9,1014.3 768.4,1101.2 768.9,1103.2 769.4,1091.4 769.9,1104.7 770.4,1075.9 770.9,1087.0 771.3,1123.5 771.8,1096.3 772.3,1114.3 772.8,1071.1 773.3,1089.2 773.8,1105.6 774.3,1100.2 774.8,1130.5 775.3,1067.1 775.7,1067.7 776.2,1096.4 776.7,1083.0 777.2,1109.5 777.7,1139.3 778.2,1090.8 778.7,1091.9 779.2,1060.5 779.6,1065.5 780.1,1105.5 780.6,1130.9 781.1,1072.8 781.6,1038.8 782.1,1095.1 782.6,1088.8 783.1,1106.8 783.6,1052.2 784.0,1103.3 784.5,1097.7 785.0,1103.0 785.5,1088.7 786.0,1134.8 786.5,1076.9 787.0,1057.0 787.5,1096.6 788.0,1091.1 788.4,1099.2 788.9,1091.7 789.4,1102.1 789.9,1116.3 790.4,1070.9"/>
<polyline stroke="#008080" points="106.3,908.2 106.8,741.7 107.3,749.3 107.8,970.4 108.3,957.7 108.7,973.7 109.2,712.6 109.7,840.8 110.2,850.6 110.7,812.0 111.2,769.7 111.7,858.8 112.2,923.8 112.7,807.6 113.1,906.4 113.6,823.7 114.1,781.1 114.6,852.8 115.1,796.8 115.6,915.6 116.1,913.1 116.6,832.6 117.1,856.6 117.5,921.9 118.0,826.8 118.5,780.7 119.0,916.7 119.5,843.6 120.0,865.0 120.5,835.6 121.0,828.2 121.4,816.8 121.9,820.8 122.4,807.0 122.9,826.3 123.4,837.3 123.9,869.4 124.4,959.7 124.9,863.7 125.4,880.4 125.8,876.0 126.3,917.8 126.8,818.6 127.3,920.8 127.8,833.8 128.3,858.8 128.8,835.3 129.3,821.0 129.8,765.9 130.2,807.1 130.7,819.1 131.2,808.5 131.7,853.1 132.2,853.5 132.7,870.8 133.2,851.3 133.7,833.7 134.2,862.5 134.6,863.6 135.1,877.4 135.6,838.2 136.1,867.7 136.6,861.3 137.1,873.6 137.6,867.2 138.1,893.8 138.6,875.1 139.0,884.0 139.5,869.5 140.0,876.5 140.5,886.2 141.0,890.5 141.5,893.1 142.0,887.7 142.5,894.6 142.9,889.3 143.4,902.2 143.9,895.0 144.4,902.1 144.9,905.0 145.4,903.2 145.9,907.6 146.4,905.5 146.9,909.8 147.3,915.7 147.8,915.5 148.3,915.9 148.8,915.7 149.3,921.7 149.8,923.8 150.3,928.7 150.8,925.5 151.3,935.8 151.7,932.4 152.2,935.4 152.7,937.1 153.2,938.9 153.7,940.5 154.2,945.0 154.7,951.1 155.2,946.8 155.7,953.7 156.1,947.3 156.6,961.0 157.1,957.7 157.6,962.3 158.1,965.5 158.6,965.3 159.1,973.9 159.6,972.7 160.1,974.4 160.5,976.2 161.0,980.7 161.5,986.0 162.0,983.9 162.5,989.6 163.0,988.4 163.5,995.9 164.0,994.9 164.4,994.2 164.9,997.5 165.4,1004.5 165.9,1008.7 166.4,1004.7 166.9,1005.5 167.4,1014.1 167.9,1008.6 168.4,1019.7 168.8,1021.6 169.3,1018.2 169.8,1024.5 170.3,1027.7 170.8,1030.1 171.3,1035.5 171.8,1034.7 172.3,1034.1 172.8,1037.4 173.2,1043.8 173.7,1047.1 174.2,1047.4 174.7,1049.3 175.2,1052.8 175.7,1056.5 176.2,1055.8 176.7,1059.8 177.2,1062.4 177.6,1064.7 178.1,1066.4 178.6,1071.7 179.1,1070.9 179.6,1079.0 180.1,1076.3 180.6,1075.5 181.1,1079.7 181.6,1084.3 182.0,1089.0 182.5,1089.9 183.0,1092.9 183.5,1093.4 184.0,1097.7 184.5,1099.3 185.0,1104.1 185.5,1109.1 185.9,1105.9 186.4,1115.2 186.9,1118.0 187.4,1120.0 187.9,1122.7 188.4,1124.7 188.9,1125.8 189.4,1129.5 189.9,1129.5 190.3,1127.9 190.8,1133.6 191.3,1135.8 191.8,1135.4 192.3,1139.1 192.8,1133.3 193.3,1135.2 193.8,1139.3 194.3,1138.2 194.7,1139.3 195.2,1137.7 195.7,1137.8 196.2,1136.5 196.7,1138.1 197.2,1134.1 197.7,1135.5 198.2,1129.2 198.7,1130.1 199.1,1130.7 199.6,1125.6 200.1,1116.8 200.6,1119.6 201.1,1114.2 201.6,1107.2 202.1,1105.7 202.6,1101.2 203.1,1098.5 203.5,1092.1 204.0,1090.5 204.5,1084.1 205.0,1086.5 205.5,1076.8 206.0,1074.8 206.5,1072.6 207.0,1069.5 207.4,1067.1 207.9,1064.6 208.4,1055.8 208.9,1056.1 209.4,1054.7 209.9,1047.9 210.4,1048.7 210.9,1040.1 211.4,1039.2 211.8,1036.5 212.3,1036.6 212.8,1029.8 213.3,1022.7 213.8,1019.6 214.3,1017.8 214.8,1012.6 215.3,1011.1 215.8,1001.9 216.2,999.5 216.7,1004.0 217.2,995.7 217.7,1001.0 218.2,991.9 218.7,988.8 219.2,984.6 219.7,983.8 220.2,980.1 220.6,976.2 221.1,970.5 221.6,971.9 222.1,968.3 222.6,961.7 223.1,959.8 223.6,956.7 224.1,951.9 224.6,948.9 225.0,947.6 225.5,943.9 226.0,940.4 226.5,936.9 227.0,931.9 227.5,930.7 228.0,931.1 228.5,923.8 228.9,919.7 229.4,915.9 229.9,914.1 230.4,911.9 230.9,905.0 231.4,906.9 231.9,899.6 232.4,897.4 232.9,895.3 233.3,890.0 233.8,892.9 234.3,887.9 234.8,878.6 235.3,877.2 235.8,876.3 236.3,874.9 236.8,872.3 237.3,868.8 237.7,868.6 238.2,864.2 238.7,852.1 239.2,855.1 239.7,853.9 240.2,849.2 240.7,844.2 241.2,853.3 241.7,839.9 242.1,833.5 242.6,833.3 243.1,833.6 243.6,841.2 244.1,835.8 244.6,822.5 245.1,821.7 245.6,824.3 246.1,817.4 246.5,821.2 247.0,798.5 247.5,814.7 248.0,814.9 248.5,807.4 249.0,807.3 249.5,800.5 250.0,785.8 250.4,799.2 250.9,781.7 251.4,787.7 251.9,794.0 252.4,788.7 252.9,796.2 253.4,774.7 253.9,785.1 254.4,773.4 254.8,771.8 255.3,770.6 255.8,768.4 256.3,765.0 256.8,753.6 257.3,765.6 257.8,762.9 258.3,784.4 258.8,769.3 259.2,773.5 259.7,756.2 260.2,749.9 260.7,749.3 261.2,768.7 261.7,739.2 262.2,744.6 262.7,750.3 263.2,762.1 263.6,746.1 264.1,740.6 264.6,731.7 265.1,748.0 265.6,747.2 266.1,751.1 266.6,735.6 267.1,740.5 267.6,738.3 268.0,744.5 268.5,722.8 269.0,721.3 269.5,723.4 270.0,756.1 270.5,751.2 271.0,723.0 271.5,731.6 271.9,725.2 272.4,714.3 272.9,720.7 273.4,713.9 273.9,706.3 274.4,712.4 274.9,740.7 275.4,724.2 275.9,726.5 276.3,686.9 276.8,728.6 277.3,723.3 277.8,736.8 278.3,738.1 278.8,725.7 279.3,740.1 279.8,747.1 280.3,738.8 280.7,731.7 281.2,746.1 281.7,713.6 282.2,740.3 282.7,754.5 283.2,707.0 283.7,745.6 284.2,712.5 284.7,730.7 285.1,734.4 285.6,752.4 286.1,739.7 286.6,754.4 287.1,731.4 287.6,745.0 288.1,742.9 288.6,710.7 289.1,759.2 289.5,763.2 290.0,751.7 290.5,736.1 291.0,719.7 291.5,752.2 292.0,732.2 292.5,756.8 293.0,746.8 293.5,774.9 293.9,768.6 294.4,733.8 294.9,731.5 295.4,722.1 295.9,741.9 296.4,782.5 296.9,760.0 297.4,771.7 297.8,749.7 298.3,753.7 298.8,736.3 299.3,727.0 299.8,734.4 300.3,745.9 300.8,716.9 301.3,757.4 301.8,737.6 302.2,762.4 302.7,748.4 303.2,738.4 303.7,748.0 304.2,765.5 304.7,752.1 305.2,740.6 305.7,741.6 306.2,723.6 306.6,745.7 307.1,749.9 307.6,780.8 308.1,763.1 308.6,775.3 309.1,733.4 309.6,761.2 310.1,779.6 310.6,757.6 311.0,779.3 311.5,750.2 312.0,753.7 312.5,751.7 313.0,761.7 313.5,756.5 314.0,787.6 314.5,785.6 315.0,766.4 315.4,767.2 315.9,784.6 316.4,746.3 316.9,762.5 317.4,770.5 317.9,759.9 318.4,753.3 318.9,790.3 319.3,754.0 319.8,762.8 320.3,756.4 320.8,756.5 321.3,782.9 321.8,749.4 322.3,753.8 322.8,747.2 323.3,782.5 323.7,760.4 324.2,780.7 324.7,785.2 325.2,750.9 325.7,777.0 326.2,763.6 326.7,773.0 327.2,757.5 327.7,777.8 328.1,764.1 328.6,760.4 329.1,804.2 329.6,748.7 330.1,791.1 330.6,751.2 331.1,762.9 331.6,773.2 332.1,762.5 332.5,769.9 333.0,784.5 333.5,754.3 334.0,750.8 334.5,762.4 335.0,762.4 335.5,776.8 336.0,783.5 336.5,765.6 336.9,787.4 337.4,779.4 337.9,783.4 338.4,785.4 338.9,772.1 339.4,768.0 339.9,782.4 340.4,758.4 340.8,789.0 341.3,796.0 341.8,792.0 342.3,777.0 342.8,765.3 343.3,781.5 343.8,797.8 344.3,807.5 344.8,789.6 345.2,765.8 345.7,780.5 346.2,797.2 346.7,782.4 347.2,795.3 347.7,813.2 348.2,776.4 348.7,775.5 349.2,782.4 349.6,798.1 350.1,781.0 350.6,789.8 351.1,798.5 351.6,802.4 352.1,794.0 352.6,788.8 353.1,791.5 353.6,819.2 354.0,796.1 354.5,768.0 355.0,808.3 355.5,779.2 356.0,783.0 356.5,791.0 357.0,774.1 357.5,804.8 358.0,795.4 358.4,796.8 358.9,787.4 359.4,810.2 359.9,770.5 360.4,800.1 360.9,787.5 361.4,778.6 361.9,798.4 362.3,798.4 362.8,781.5 363.3,814.5 363.8,789.8 364.3,810.9 364.8,803.5 365.3,805.3 365.8,784.8 366.3,816.4 366.7,830.1 367.2,810.9 367.7,819.2 368.2,804.3 368.7,798.0 369.2,801.7 369.7,823.9 370.2,827.0 370.7,803.5 371.1,823.7 371.6,828.9 372.1,793.4 372.6,816.4 373.1,810.4 373.6,810.2 374.1,813.3 374.6,814.5 375.1,812.3 375.5,825.5 376.0,816.2 376.5,829.9 377.0,810.4 377.5,806.9 378.0,856.7 378.5,810.5 379.0,809.5 379.5,812.1 379.9,817.6 380.4,827.6 380.9,809.4 381.4,835.1 381.9,834.2 382.4,798.1 382.9,838.2 383.4,823.1 383.8,826.2 384.3,831.8 384.8,836.1 385.3,835.8 385.8,842.1 386.3,846.1 386.8,853.0 387.3,834.0 387.8,820.7 388.2,851.7 388.7,830.5 389.2,839.4 389.7,824.5 390.2,827.1 390.7,814.8 391.2,845.7 391.7,836.5 392.2,841.2 392.6,844.3 393.1,834.1 393.6,848.3 394.1,829.9 394.6,835.6 395.1,860.4 395.6,828.9 396.1,838.2 396.6,841.8 397.0,866.4 397.5,850.7 398.0,852.7 398.5,853.1 399.0,857.0 399.5,859.2 400.0,831.7 400.5,853.4 401.0,869.9 401.4,856.4 401.9,856.4 402.4,852.4 402.9,850.8 403.4,848.6 403.9,834.2 404.4,850.2 404.9,829.1 405.3,860.2 405.8,868.9 406.3,843.0 406.8,857.3 407.3,861.9 407.8,866.9 408.3,843.0 408.8,865.5 409.3,836.7 409.7,840.2 410.2,847.0 410.7,861.5 411.2,836.8 411.7,871.2 412.2,859.5 412.7,845.0 413.2,858.1 413.7,859.0 414.1,854.3 414.6,870.6 415.1,857.0 415.6,867.0 416.1,861.9 416.6,872.8 417.1,858.4 417.6,860.4 418.1,872.0 418.5,867.4 419.0,877.1 419.5,853.8 420.0,849.3 420.5,866.9 421.0,855.7 421.5,878.9 422.0,871.3 422.5,881.6 422.9,868.0 423.4,883.8 423.9,875.1 424.4,870.1 424.9,882.0 425.4,886.5 425.9,883.4 426.4,873.6 426.8,880.0 427.3,872.3 427.8,864.0 428.3,859.6 428.8,872.2 429.3,879.2 429.8,886.5 430.3,888.0 430.8,893.2 431.2,884.5 431.7,899.1 432.2,904.8 432.7,894.5 433.2,887.0 433.7,891.8 434.2,895.3 434.7,892.6 435.2,882.8 435.6,899.3 436.1,890.3 436.6,891.4 437.1,902.7 437.6,886.0 438.1,898.4 438.6,876.4 439.1,900.0 439.6,896.4 440.0,878.5 440.5,888.5 441.0,898.7 441.5,916.3 442.0,878.0 442.5,910.2 443.0,896.4 443.5,901.3 444.0,900.5 444.4,904.3 444.9,907.2 445.4,907.6 445.9,905.6 446.4,913.1 446.9,910.3 447.4,899.8 447.9,919.6 448.4,900.1 448.8,890.6 449.3,892.8 449.8,904.7 450.3,910.3 450.8,907.9 451.3,927.2 451.8,908.6 452.3,920.3 452.7,903.2 453.2,917.8 453.7,914.8 454.2,924.8 454.7,921.0 455.2,921.1 455.7,915.1 456.2,912.6 456.7,924.5 457.1,933.6 457.6,933.9 458.1,916.2 458.6,919.2 459.1,923.0 459.6,925.4 460.1,925.3 460.6,927.8 461.1,919.6 461.5,927.7 462.0,934.8 462.5,933.2 463.0,941.8 463.5,924.8 464.0,935.5 464.5,933.2 465.0,939.1 465.5,936.4 465.9,928.3 466.4,933.0 466.9,932.7 467.4,926.9 467.9,932.7 468.4,940.2 468.9,932.2 469.4,951.5 469.9,931.9 470.3,937.2 470.8,935.8 471.3,938.2 471.8,941.6 472.3,949.6 472.8,931.4 473.3,945.9 473.8,947.8 474.2,941.5 474.7,942.6 475.2,947.2 475.7,948.5 476.2,941.8 476.7,936.8 477.2,947.0 477.7,947.7 478.2,942.5 478.6,951.6 479.1,956.8 479.6,956.8 480.1,952.6 480.6,952.4 481.1,962.3 481.6,950.9 482.1,951.2 482.6,958.5 483.0,953.0 483.5,941.9 484.0,957.0 484.5,963.3 485.0,960.9 485.5,961.2 486.0,961.5 486.5,961.2 487.0,959.4 487.4,964.7 487.9,958.1 488.4,960.8 488.9,959.8 489.4,970.9 489.9,956.1 490.4,952.5 490.9,962.9 491.4,964.7 491.8,965.2 492.3,957.8 492.8,974.6 493.3,959.5 493.8,972.1 494.3,959.4 494.8,965.5 495.3,975.6 495.7,971.9 496.2,979.6 496.7,979.1 497.2,974.0 497.7,966.2 498.2,975.5 498.7,982.0 499.2,974.7 499.7,977.1 500.1,974.6 500.6,978.8 501.1,981.6 501.6,979.2 502.1,980.6 502.6,971.8 503.1,977.0 503.6,975.8 504.1,982.3 504.5,980.8 505.0,985.2 505.5,979.0 506.0,985.8 506.5,997.2 507.0,986.5 507.5,982.0 508.0,979.6 508.5,986.1 508.9,981.6 509.4,984.8 509.9,984.4 510.4,983.9 510.9,987.7 511.4,989.0 511.9,996.7 512.4,990.8 512.9,990.1 513.3,990.7 513.8,989.3 514.3,995.7 514.8,990.5 515.3,991.4 515.8,990.8 516.3,991.4 516.8,992.3 517.2,999.3 517.7,1002.6 518.2,1003.2 518.7,994.9 519.2,993.1 519.7,1000.5 520.2,995.8 520.7,999.6 521.2,1000.5 521.6,1003.0 522.1,1002.9 522.6,1003.9 523.1,1001.1 523.6,1001.1 524.1,1003.2 524.6,999.8 525.1,1009.0 525.6,1005.4 526.0,1009.4 526.5,1004.6 527.0,1003.6 527.5,1014.9 528.0,1005.1 528.5,1003.5 529.0,1008.1 529.5,1019.0 530.0,1000.2 530.4,1013.4 530.9,1011.3 531.4,1003.1 531.9,1023.2 532.4,1013.1 532.9,1006.3 533.4,1010.9 533.9,1010.5 534.4,1014.1 534.8,1014.2 535.3,1011.6 535.8,1022.1 536.3,1020.8 536.8,1018.1 537.3,1020.1 537.8,1010.7 538.3,1018.0 538.7,1017.6 539.2,1022.9 539.7,1014.8 540.2,1019.7 540.7,1021.4 541.2,1021.4 541.7,1022.7 542.2,1024.8 542.7,1020.6 543.1,1017.4 543.6,1014.7 544.1,1030.0 544.6,1023.4 545.1,1009.4 545.6,1021.4 546.1,1027.6 546.6,1030.4 547.1,1022.2 547.5,1020.3 548.0,1021.4 548.5,1025.7 549.0,1031.1 549.5,1022.6 550.0,1021.5 550.5,1023.7 551.0,1026.4 551.5,1030.1 551.9,1017.6 552.4,1026.9 552.9,1030.5 553.4,1031.0 553.9,1018.4 554.4,1024.9 554.9,1036.6 555.4,1025.8 555.9,1032.0 556.3,1031.5 556.8,1034.9 557.3,1029.0 557.8,1022.9 558.3,1040.2 558.8,1036.6 559.3,1037.4 559.8,1033.4 560.2,1040.8 560.7,1038.8 561.2,1037.0 561.7,1029.4 562.2,1046.0 562.7,1037.1 563.2,1032.5 563.7,1040.2 564.2,1030.2 564.6,1032.4 565.1,1036.4 565.6,1030.2 566.1,1035.5 566.6,1033.4 567.1,1046.5 567.6,1037.7 568.1,1043.5 568.6,1047.9 569.0,1042.3 569.5,1039.3 570.0,1044.7 570.5,1039.7 571.0,1036.4 571.5,1044.9 572.0,1044.8 572.5,1042.9 573.0,1043.5 573.4,1038.6 573.9,1055.1 574.4,1042.7 574.9,1048.2 575.4,1050.2 575.9,1035.3 576.4,1046.0 576.9,1048.7 577.4,1037.7 577.8,1044.9 578.3,1045.5 578.8,1045.1 579.3,1046.7 579.8,1055.0 580.3,1052.8 580.8,1055.8 581.3,1052.0 581.7,1048.2 582.2,1054.2 582.7,1055.4 583.2,1049.2 583.7,1050.5 584.2,1059.3 584.7,1055.1 585.2,1051.3 585.7,1043.8 586.1,1055.5 586.6,1052.1 587.1,1054.1 587.6,1054.3 588.1,1063.6 588.6,1047.9 589.1,1053.4 589.6,1050.9 590.1,1062.6 590.5,1060.2 591.0,1055.4 591.5,1059.9 592.0,1060.3 592.5,1048.0 593.0,1062.0 593.5,1058.6 594.0,1059.8 594.5,1066.5 594.9,1060.4 595.4,1050.8 595.9,1062.8 596.4,1055.3 596.9,1061.0 597.4,1059.7 597.9,1063.5 598.4,1059.9 598.9,1065.3 599.3,1054.3 599.8,1067.4 600.3,1064.7 600.8,1073.2 601.3,1057.4 601.8,1061.1 602.3,1061.3 602.8,1067.4 603.2,1056.9 603.7,1060.1 604.2,1068.7 604.7,1057.2 605.2,1068.3 605.7,1071.1 606.2,1061.1 606.7,1068.0 607.2,1068.3 607.6,1064.6 608.1,1064.6 608.6,1073.4 609.1,1068.5 609.6,1067.3 610.1,1067.7 610.6,1061.8 611.1,1073.2 611.6,1074.3 612.0,1078.0 612.5,1067.3 613.0,1076.9 613.5,1074.5 614.0,1079.1 614.5,1079.9 615.0,1073.2 615.5,1069.5 616.0,1081.0 616.4,1072.4 616.9,1074.4 617.4,1079.2 617.9,1077.6 618.4,1075.9 618.9,1089.3 619.4,1085.1 619.9,1070.6 620.4,1069.3 620.8,1078.8 621.3,1072.9 621.8,1072.4 622.3,1076.1 622.8,1084.0 623.3,1071.5 623.8,1080.9 624.3,1078.4 624.8,1082.9 625.2,1071.2 625.7,1087.8 626.2,1080.3 626.7,1083.8 627.2,1085.4 627.7,1077.3 628.2,1081.4 628.7,1071.8 629.1,1090.0 629.6,1072.2 630.1,1087.4 630.6,1081.8 631.1,1088.4 631.6,1078.3 632.1,1083.3 632.6,1084.1 633.1,1086.5 633.5,1080.3 634.0,1077.1 634.5,1085.9 635.0,1076.9 635.5,1081.4 636.0,1085.1 636.5,1077.3 637.0,1095.2 637.5,1081.1 637.9,1087.3 638.4,1081.0 638.9,1088.4 639.4,1081.0 639.9,1078.4 640.4,1088.0 640.9,1091.8 641.4,1095.6 641.9,1076.9 642.3,1086.8 642.8,1086.3 643.3,1084.6 643.8,1092.9 644.3,1094.3 644.8,1081.8 645.3,1091.8 645.8,1085.5 646.3,1084.9 646.7,1089.0 647.2,1089.6 647.7,1077.7 648.2,1080.8 648.7,1092.5 649.2,1090.6 649.7,1084.3 650.2,1080.1 650.6,1083.3 651.1,1093.9 651.6,1094.4 652.1,1091.7 652.6,1086.1 653.1,1090.2 653.6,1084.3 654.1,1093.5 654.6,1088.0 655.0,1092.6 655.5,1100.9 656.0,1095.3 656.5,1099.7 657.0,1086.0 657.5,1095.1 658.0,1094.8 658.5,1092.1 659.0,1096.3 659.4,1093.8 659.9,1087.9 660.4,1100.1 660.9,1095.4 661.4,1092.3 661.9,1104.4 662.4,1086.0 662.9,1097.4 663.4,1100.8 663.8,1096.4 664.3,1093.9 664.8,1094.5 665.3,1092.5 665.8,1099.0 666.3,1091.7 666.8,1083.1 667.3,1099.7 667.8,1090.8 668.2,1102.0 668.7,1089.3 669.2,1105.2 669.7,1090.6 670.2,1092.1 670.7,1092.9 671.2,1100.4 671.7,1094.2 672.1,1084.9 672.6,1100.8 673.1,1098.7 673.6,1102.7 674.1,1098.9 674.6,1097.5 675.1,1101.8 675.6,1090.5 676.1,1104.8 676.5,1104.8 677.0,1090.6 677.5,1101.2 678.0,1095.4 678.5,1099.6 679.0,1090.2 679.5,1096.4 680.0,1107.1 680.5,1113.4 680.9,1102.5 681.4,1103.9 681.9,1103.3 682.4,1116.1 682.9,1084.7 683.4,1090.5 683.9,1095.9 684.4,1098.7 684.9,1100.1 685.3,1099.1 685.8,1110.6 686.3,1117.9 686.8,1099.3 687.3,1096.9 687.8,1101.6 688.3,1094.5 688.8,1097.6 689.3,1105.1 689.7,1114.0 690.2,1112.5 690.7,1108.4 691.2,1103.5 691.7,1101.3 692.2,1108.3 692.7,1093.0 693.2,1088.7 693.6,1104.3 694.1,1102.4 694.6,1112.9 695.1,1091.5 695.6,1087.4 696.1,1102.0 696.6,1116.2 697.1,1128.6 697.6,1102.4 698.0,1099.6 698.5,1101.2 699.0,1110.5 699.5,1107.3 700.0,1108.4 700.5,1111.4 701.0,1105.3 701.5,1096.6 702.0,1115.0 702.4,1102.7 702.9,1099.7 703.4,1106.7 703.9,1108.0 704.4,1091.6 704.9,1098.6 705.4,1111.0 705.9,1100.7 706.4,1097.9 706.8,1103.7 707.3,1093.2 707.8,1100.1 708.3,1097.7 708.8,1110.0 709.3,1084.2 709.8,1106.0 710.3,1107.8 710.8,1109.3 711.2,1101.1 711.7,1117.5 712.2,1093.0 712.7,1111.5 713.2,1110.9 713.7,1100.1 714.2,1100.0 714.7,1095.2 715.1,1086.1 715.6,1105.9 716.1,1099.4 716.6,1092.2 717.1,1102.0 717.6,1085.3 718.1,1129.2 718.6,1092.1 719.1,1097.0 719.5,1064.3 720.0,1090.7 720.5,1085.1 721.0,1091.8 721.5,1107.6 722.0,1111.3 722.5,1123.0 723.0,1098.6 723.5,1114.9 723.9,1111.6 724.4,1079.5 724.9,1106.9 725.4,1119.7 725.9,1093.0 726.4,1095.5 726.9,1085.2 727.4,1111.1 727.9,1105.9 728.3,1106.9 728.8,1100.7 729.3,1105.1 729.8,1139.0 730.3,1086.8 730.8,1100.4 731.3,1108.3 731.8,1102.5 732.3,1105.4 732.7,1132.7 733.2,1102.5 733.7,1080.8 734.2,1104.2 734.7,1118.0 735.2,1102.7 735.7,1104.8 736.2,1081.6 736.6,1105.1 737.1,1107.2 737.6,1084.5 738.1,1111.4 738.6,1120.9 739.1,1105.9 739.6,1085.5 740.1,1102.9 740.6,1097.3 741.0,1098.9 741.5,1104.3 742.0,1099.5 742.5,1082.0 743.0,1088.2 743.5,1120.5 744.0,1085.1 744.5,1077.0 745.0,1107.5 745.4,1086.9 745.9,1121.1 746.4,1094.2 746.9,1110.5 747.4,1097.7 747.9,1082.7 748.4,1110.2 748.9,1106.3 749.4,1088.0 749.8,1083.0 750.3,1072.6 750.8,1049.6 751.3,1131.8 751.8,1061.9 752.3,1068.5 752.8,1092.9 753.3,1108.3 753.8,1052.2 754.2,1070.0 754.7,1098.7 755.2,1047.4 755.7,1113.4 756.2,1118.3 756.7,1112.0 757.2,1103.9 757.7,1089.7 758.1,1048.6 758.6,1097.5 759.1,1098.3 759.6,1110.6 760.1,1113.7 760.6,1077.6 761.1,1105.2 761.6,1092.8 762.1,1086.7 762.5,1080.6 763.0,1087.7 763.5,1099.8 764.0,1070.3 764.5,1078.8 765.0,1053.0 765.5,1123.2 766.0,1139.3 766.5,1085.2 766.9,1108.7 767.4,1116.2 767.9,1116.9 768.4,1116.1 768.9,1089.9 769.4,1069.2 769.9,1063.8 770.4,1110.0 770.9,1082.1 771.3,1091.4 771.8,1116.7 772.3,1096.5 772.8,1058.4 773.3,1095.1 773.8,1095.6 774.3,1041.7 774.8,1055.4 775.3,1056.7 775.7,1087.0 776.2,1070.4 776.7,1073.9 777.2,1072.5 777.7,1067.3 778.2,1087.3 778.7,1127.6 779.2,1059.2 779.6,1049.3 780.1,1082.4 780.6,1038.5 781.1,1071.4 781.6,1102.8 782.1,1115.7 782.6,1073.3 783.1,1094.3 783.6,1070.5 784.0,1070.0 784.5,1127.1 785.0,1073.0 785.5,1058.7 786.0,1104.2 786.5,1101.7 787.0,1110.5 787.5,1041.0 788.0,1139.3 788.4,1092.6 788.9,1074.9 789.4,1108.1 789.9,1089.4 790.4,1139.3"/>
</g>
<text x="105.7" y="1168.8" text-anchor="middle" class="tk">200</text>
<text x="203.4" y="1168.8" text-anchor="middle" class="tk">300</text>
<text x="301.2" y="1168.8" text-anchor="middle" class="tk">400</text>
<text x="398.9" y="1168.8" text-anchor="middle" class="tk">500</text>
<text x="496.6" y="1168.8" text-anchor="middle" class="tk">600</text>
<text x="594.3" y="1168.8" text-anchor="middle" class="tk">700</text>
<text x="692.1" y="1168.8" text-anchor="middle" class="tk">800</text>
<text x="789.8" y="1168.8" text-anchor="middle" class="tk">900</text>
<text x="95.7" y="1145.7" text-anchor="end" class="tk" style="letter-spacing:0.8px">0</text>
<text x="95.7" y="1043.8" text-anchor="end" class="tk" style="letter-spacing:0.8px">20</text>
<text x="95.7" y="942.0" text-anchor="end" class="tk" style="letter-spacing:0.8px">40</text>
<text x="95.7" y="840.1" text-anchor="end" class="tk" style="letter-spacing:0.8px">60</text>
<text x="95.7" y="738.3" text-anchor="end" class="tk" style="letter-spacing:0.8px">80</text>
<text x="94.9" y="636.4" text-anchor="end" class="tk" style="letter-spacing:0.0px">100</text>

<!-- legend -->
<path d="M504.5 666.7H568.8" stroke="#000" stroke-width="3"/>
<path d="M504.5 807.9H568.8" stroke="#ff0000" stroke-width="3"/>
<path d="M504.5 844H568.8" stroke="#0000ff" stroke-width="3"/>
<path d="M504.5 878.3H568.8" stroke="#008080" stroke-width="3"/>
<text x="590.5" y="676" class="lg">As-Deposited</text>
<text x="466" y="745.6" class="lg">Preheating Temperature</text>
<text x="510" y="782.3" class="lg" style="letter-spacing:0.25px">(FLA, 1.2ms)</text>
<text x="615" y="817.5" class="lg">100°C</text>
<text x="615" y="852.7" class="lg">200°C</text>
<text x="615" y="887.5" class="lg">300°C</text>

<text transform="translate(29.8,1051.5) rotate(-90)" class="axl" style="letter-spacing:1.5px">REFLECTANCE [%]</text>
<text x="447.8" y="1225" text-anchor="middle" class="axl" style="letter-spacing:0.9px">WAVELENGTH [nm]</text>
<text x="428.1" y="1270.8" text-anchor="middle" class="cap">(b)</text>
</svg>
</body>
</html>
